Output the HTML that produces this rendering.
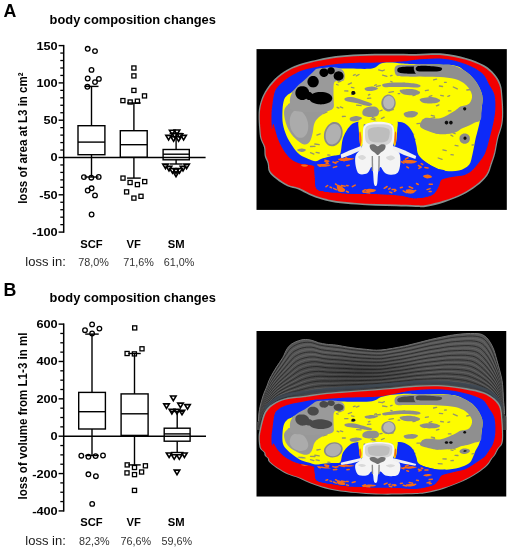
<!DOCTYPE html>
<html><head><meta charset="utf-8"><title>body composition changes</title>
<style>html,body{margin:0;padding:0;background:#fff;}body{width:510px;height:550px;position:relative;overflow:hidden;}</style>
</head><body>
<svg width="510" height="550" viewBox="0 0 510 550" style="position:absolute;left:0;top:0" font-family='"Liberation Sans", Arial, sans-serif'>
<text x="3.5" y="17.4" font-size="17.8" font-weight="bold">A</text>
<text x="49.6" y="23.95" font-size="12.3" font-weight="bold" textLength="166.3" lengthAdjust="spacingAndGlyphs">body composition changes</text>
<line x1="63.7" y1="44.9" x2="63.7" y2="232.8" stroke="#000" stroke-width="1.5"/>
<line x1="58.6" y1="232.1" x2="63.7" y2="232.1" stroke="#000" stroke-width="1.4"/>
<text transform="translate(57.7 236.05) scale(1.13 1)" font-size="11.3" font-weight="bold" text-anchor="end">-100</text>
<line x1="60.3" y1="224.64" x2="63.7" y2="224.64" stroke="#000" stroke-width="1.3"/>
<line x1="60.3" y1="217.18" x2="63.7" y2="217.18" stroke="#000" stroke-width="1.3"/>
<line x1="60.3" y1="209.72" x2="63.7" y2="209.72" stroke="#000" stroke-width="1.3"/>
<line x1="60.3" y1="202.26" x2="63.7" y2="202.26" stroke="#000" stroke-width="1.3"/>
<line x1="58.6" y1="194.8" x2="63.7" y2="194.8" stroke="#000" stroke-width="1.4"/>
<text transform="translate(57.7 198.75) scale(1.13 1)" font-size="11.3" font-weight="bold" text-anchor="end">-50</text>
<line x1="60.3" y1="187.34" x2="63.7" y2="187.34" stroke="#000" stroke-width="1.3"/>
<line x1="60.3" y1="179.88" x2="63.7" y2="179.88" stroke="#000" stroke-width="1.3"/>
<line x1="60.3" y1="172.42" x2="63.7" y2="172.42" stroke="#000" stroke-width="1.3"/>
<line x1="60.3" y1="164.96" x2="63.7" y2="164.96" stroke="#000" stroke-width="1.3"/>
<line x1="58.6" y1="157.5" x2="63.7" y2="157.5" stroke="#000" stroke-width="1.4"/>
<text transform="translate(57.7 161.45) scale(1.13 1)" font-size="11.3" font-weight="bold" text-anchor="end">0</text>
<line x1="60.3" y1="150.04" x2="63.7" y2="150.04" stroke="#000" stroke-width="1.3"/>
<line x1="60.3" y1="142.58" x2="63.7" y2="142.58" stroke="#000" stroke-width="1.3"/>
<line x1="60.3" y1="135.12" x2="63.7" y2="135.12" stroke="#000" stroke-width="1.3"/>
<line x1="60.3" y1="127.66" x2="63.7" y2="127.66" stroke="#000" stroke-width="1.3"/>
<line x1="58.6" y1="120.2" x2="63.7" y2="120.2" stroke="#000" stroke-width="1.4"/>
<text transform="translate(57.7 124.15) scale(1.13 1)" font-size="11.3" font-weight="bold" text-anchor="end">50</text>
<line x1="60.3" y1="112.74" x2="63.7" y2="112.74" stroke="#000" stroke-width="1.3"/>
<line x1="60.3" y1="105.28" x2="63.7" y2="105.28" stroke="#000" stroke-width="1.3"/>
<line x1="60.3" y1="97.82" x2="63.7" y2="97.82" stroke="#000" stroke-width="1.3"/>
<line x1="60.3" y1="90.36" x2="63.7" y2="90.36" stroke="#000" stroke-width="1.3"/>
<line x1="58.6" y1="82.9" x2="63.7" y2="82.9" stroke="#000" stroke-width="1.4"/>
<text transform="translate(57.7 86.85) scale(1.13 1)" font-size="11.3" font-weight="bold" text-anchor="end">100</text>
<line x1="60.3" y1="75.44" x2="63.7" y2="75.44" stroke="#000" stroke-width="1.3"/>
<line x1="60.3" y1="67.98" x2="63.7" y2="67.98" stroke="#000" stroke-width="1.3"/>
<line x1="60.3" y1="60.52" x2="63.7" y2="60.52" stroke="#000" stroke-width="1.3"/>
<line x1="60.3" y1="53.06" x2="63.7" y2="53.06" stroke="#000" stroke-width="1.3"/>
<line x1="58.6" y1="45.6" x2="63.7" y2="45.6" stroke="#000" stroke-width="1.4"/>
<text transform="translate(57.7 49.55) scale(1.13 1)" font-size="11.3" font-weight="bold" text-anchor="end">150</text>
<line x1="63.7" y1="157.5" x2="205.6" y2="157.5" stroke="#000" stroke-width="1.35"/>
<g stroke="#000" stroke-width="1.4" fill="none">
<rect x="78" y="125.7" width="26.9" height="29"/>
<line x1="78" y1="142.1" x2="104.9" y2="142.1"/>
<line x1="91.5" y1="86.4" x2="91.5" y2="125.7"/>
<line x1="91.5" y1="154.7" x2="91.5" y2="177"/>
<line x1="84.5" y1="86.4" x2="98.5" y2="86.4"/>
<line x1="84.5" y1="177" x2="98.5" y2="177"/>
</g>
<g stroke="#000" stroke-width="1.4" fill="none">
<rect x="120.3" y="130.7" width="26.9" height="26.6"/>
<line x1="120.3" y1="144.7" x2="147.2" y2="144.7"/>
<line x1="133.9" y1="103" x2="133.9" y2="130.7"/>
<line x1="133.9" y1="157.3" x2="133.9" y2="178.1"/>
<line x1="127.05" y1="103" x2="140.75" y2="103"/>
<line x1="127.05" y1="178.1" x2="140.75" y2="178.1"/>
</g>
<g stroke="#000" stroke-width="1.4" fill="none">
<rect x="163.1" y="149.5" width="26.2" height="10.3"/>
<line x1="163.1" y1="154.2" x2="189.3" y2="154.2"/>
<line x1="176.1" y1="133.5" x2="176.1" y2="149.5"/>
<line x1="176.1" y1="159.8" x2="176.1" y2="164"/>
<line x1="169.6" y1="133.5" x2="182.6" y2="133.5"/>
<line x1="169.6" y1="164" x2="182.6" y2="164"/>
</g>
<g stroke="#000" stroke-width="1.3" fill="none">
<circle cx="87.7" cy="48.8" r="2.3"/>
<circle cx="95" cy="51.1" r="2.3"/>
<circle cx="91.5" cy="69.9" r="2.3"/>
<circle cx="87.7" cy="78.5" r="2.3"/>
<circle cx="98.9" cy="78.9" r="2.3"/>
<circle cx="95" cy="82.1" r="2.3"/>
<circle cx="87.4" cy="86.8" r="2.3"/>
<circle cx="83.9" cy="177.1" r="2.3"/>
<circle cx="91.3" cy="177.7" r="2.3"/>
<circle cx="98.7" cy="176.9" r="2.3"/>
<circle cx="87.7" cy="190.5" r="2.3"/>
<circle cx="91.6" cy="188.3" r="2.3"/>
<circle cx="95" cy="195.4" r="2.3"/>
<circle cx="91.6" cy="214.5" r="2.3"/>
<rect x="131.85" y="65.95" width="4.1" height="4.1"/>
<rect x="131.85" y="73.85" width="4.1" height="4.1"/>
<rect x="131.85" y="88.35" width="4.1" height="4.1"/>
<rect x="142.45" y="93.85" width="4.1" height="4.1"/>
<rect x="120.85" y="98.55" width="4.1" height="4.1"/>
<rect x="128.15" y="99.95" width="4.1" height="4.1"/>
<rect x="135.35" y="99.15" width="4.1" height="4.1"/>
<rect x="120.95" y="176.05" width="4.1" height="4.1"/>
<rect x="128.05" y="180.45" width="4.1" height="4.1"/>
<rect x="135.35" y="182.55" width="4.1" height="4.1"/>
<rect x="142.65" y="179.55" width="4.1" height="4.1"/>
<rect x="124.55" y="189.85" width="4.1" height="4.1"/>
<rect x="131.85" y="196.05" width="4.1" height="4.1"/>
<rect x="138.95" y="194.25" width="4.1" height="4.1"/>
<path d="M169.45 130.25H174.95L172.2 134.8Z" stroke-width="1.6" stroke-linejoin="miter"/>
<path d="M174.25 130.05H179.75L177 134.6Z" stroke-width="1.6" stroke-linejoin="miter"/>
<path d="M172.05 133.35H177.55L174.8 137.9Z" stroke-width="1.6" stroke-linejoin="miter"/>
<path d="M177.25 133.75H182.75L180 138.3Z" stroke-width="1.6" stroke-linejoin="miter"/>
<path d="M165.85 135.35H171.35L168.6 139.9Z" stroke-width="1.6" stroke-linejoin="miter"/>
<path d="M170.85 136.75H176.35L173.6 141.3Z" stroke-width="1.6" stroke-linejoin="miter"/>
<path d="M175.85 136.75H181.35L178.6 141.3Z" stroke-width="1.6" stroke-linejoin="miter"/>
<path d="M180.85 135.35H186.35L183.6 139.9Z" stroke-width="1.6" stroke-linejoin="miter"/>
<path d="M162.75 164.15H168.25L165.5 168.7Z" stroke-width="1.6" stroke-linejoin="miter"/>
<path d="M183.85 164.15H189.35L186.6 168.7Z" stroke-width="1.6" stroke-linejoin="miter"/>
<path d="M166.25 166.35H171.75L169 170.9Z" stroke-width="1.6" stroke-linejoin="miter"/>
<path d="M180.25 166.35H185.75L183 170.9Z" stroke-width="1.6" stroke-linejoin="miter"/>
<path d="M169.75 168.55H175.25L172.5 173.1Z" stroke-width="1.6" stroke-linejoin="miter"/>
<path d="M173.25 168.95H178.75L176 173.5Z" stroke-width="1.6" stroke-linejoin="miter"/>
<path d="M176.75 168.55H182.25L179.5 173.1Z" stroke-width="1.6" stroke-linejoin="miter"/>
<path d="M173.25 172.05H178.75L176 176.6Z" stroke-width="1.6" stroke-linejoin="miter"/>
</g>
<text transform="translate(26.6 138.1) rotate(-90)" font-size="13.3" font-weight="bold" text-anchor="middle" textLength="131.5" lengthAdjust="spacingAndGlyphs">loss of area at L3 in cm²</text>
<text transform="translate(91.5 247.7) scale(0.97 1)" font-size="11.6" font-weight="bold" text-anchor="middle">SCF</text>
<text transform="translate(133.6 247.7) scale(0.97 1)" font-size="11.6" font-weight="bold" text-anchor="middle">VF</text>
<text transform="translate(176.2 247.7) scale(0.97 1)" font-size="11.6" font-weight="bold" text-anchor="middle">SM</text>
<text x="25.3" y="266.3" font-size="13" fill="#1a1a1a">loss in:</text>
<text x="78.2" y="266.3" font-size="10.8" fill="#333">78,0%</text>
<text x="123.2" y="266.3" font-size="10.8" fill="#333">71,6%</text>
<text x="163.8" y="266.3" font-size="10.8" fill="#333">61,0%</text>
<text x="3.5" y="295.6" font-size="17.8" font-weight="bold">B</text>
<text x="49.6" y="302.15" font-size="12.3" font-weight="bold" textLength="166.3" lengthAdjust="spacingAndGlyphs">body composition changes</text>
<line x1="63.7" y1="323.42" x2="63.7" y2="511.62" stroke="#000" stroke-width="1.5"/>
<line x1="58.6" y1="510.92" x2="63.7" y2="510.92" stroke="#000" stroke-width="1.4"/>
<text transform="translate(57.7 514.87) scale(1.13 1)" font-size="11.3" font-weight="bold" text-anchor="end">-400</text>
<line x1="60.3" y1="501.58" x2="63.7" y2="501.58" stroke="#000" stroke-width="1.3"/>
<line x1="60.3" y1="492.24" x2="63.7" y2="492.24" stroke="#000" stroke-width="1.3"/>
<line x1="60.3" y1="482.9" x2="63.7" y2="482.9" stroke="#000" stroke-width="1.3"/>
<line x1="58.6" y1="473.56" x2="63.7" y2="473.56" stroke="#000" stroke-width="1.4"/>
<text transform="translate(57.7 477.51) scale(1.13 1)" font-size="11.3" font-weight="bold" text-anchor="end">-200</text>
<line x1="60.3" y1="464.22" x2="63.7" y2="464.22" stroke="#000" stroke-width="1.3"/>
<line x1="60.3" y1="454.88" x2="63.7" y2="454.88" stroke="#000" stroke-width="1.3"/>
<line x1="60.3" y1="445.54" x2="63.7" y2="445.54" stroke="#000" stroke-width="1.3"/>
<line x1="58.6" y1="436.2" x2="63.7" y2="436.2" stroke="#000" stroke-width="1.4"/>
<text transform="translate(57.7 440.15) scale(1.13 1)" font-size="11.3" font-weight="bold" text-anchor="end">0</text>
<line x1="60.3" y1="426.86" x2="63.7" y2="426.86" stroke="#000" stroke-width="1.3"/>
<line x1="60.3" y1="417.52" x2="63.7" y2="417.52" stroke="#000" stroke-width="1.3"/>
<line x1="60.3" y1="408.18" x2="63.7" y2="408.18" stroke="#000" stroke-width="1.3"/>
<line x1="58.6" y1="398.84" x2="63.7" y2="398.84" stroke="#000" stroke-width="1.4"/>
<text transform="translate(57.7 402.79) scale(1.13 1)" font-size="11.3" font-weight="bold" text-anchor="end">200</text>
<line x1="60.3" y1="389.5" x2="63.7" y2="389.5" stroke="#000" stroke-width="1.3"/>
<line x1="60.3" y1="380.16" x2="63.7" y2="380.16" stroke="#000" stroke-width="1.3"/>
<line x1="60.3" y1="370.82" x2="63.7" y2="370.82" stroke="#000" stroke-width="1.3"/>
<line x1="58.6" y1="361.48" x2="63.7" y2="361.48" stroke="#000" stroke-width="1.4"/>
<text transform="translate(57.7 365.43) scale(1.13 1)" font-size="11.3" font-weight="bold" text-anchor="end">400</text>
<line x1="60.3" y1="352.14" x2="63.7" y2="352.14" stroke="#000" stroke-width="1.3"/>
<line x1="60.3" y1="342.8" x2="63.7" y2="342.8" stroke="#000" stroke-width="1.3"/>
<line x1="60.3" y1="333.46" x2="63.7" y2="333.46" stroke="#000" stroke-width="1.3"/>
<line x1="58.6" y1="324.12" x2="63.7" y2="324.12" stroke="#000" stroke-width="1.4"/>
<text transform="translate(57.7 328.07) scale(1.13 1)" font-size="11.3" font-weight="bold" text-anchor="end">600</text>
<line x1="63.7" y1="436.2" x2="206" y2="436.2" stroke="#000" stroke-width="1.35"/>
<g stroke="#000" stroke-width="1.4" fill="none">
<rect x="78.7" y="392.4" width="26.7" height="36.6"/>
<line x1="78.7" y1="411.7" x2="105.4" y2="411.7"/>
<line x1="92" y1="334.1" x2="92" y2="392.4"/>
<line x1="92" y1="429" x2="92" y2="455.5"/>
<line x1="85.25" y1="334.1" x2="98.75" y2="334.1"/>
<line x1="85.25" y1="455.5" x2="98.75" y2="455.5"/>
</g>
<g stroke="#000" stroke-width="1.4" fill="none">
<rect x="121.1" y="393.9" width="27" height="41.5"/>
<line x1="121.1" y1="413.8" x2="148.1" y2="413.8"/>
<line x1="134.5" y1="353.5" x2="134.5" y2="393.9"/>
<line x1="134.5" y1="435.4" x2="134.5" y2="464.9"/>
<line x1="128.25" y1="353.5" x2="140.75" y2="353.5"/>
<line x1="128.25" y1="464.9" x2="140.75" y2="464.9"/>
</g>
<g stroke="#000" stroke-width="1.4" fill="none">
<rect x="164.2" y="428.2" width="25.9" height="13"/>
<line x1="164.2" y1="433.9" x2="190.1" y2="433.9"/>
<line x1="177.2" y1="411.5" x2="177.2" y2="428.2"/>
<line x1="177.2" y1="441.2" x2="177.2" y2="452.5"/>
<line x1="170.7" y1="411.5" x2="183.7" y2="411.5"/>
<line x1="170.7" y1="452.5" x2="183.7" y2="452.5"/>
</g>
<g stroke="#000" stroke-width="1.3" fill="none">
<circle cx="92.1" cy="324.4" r="2.3"/>
<circle cx="85" cy="330.2" r="2.3"/>
<circle cx="99.4" cy="328.6" r="2.3"/>
<circle cx="92.1" cy="333.5" r="2.3"/>
<circle cx="81.3" cy="455.7" r="2.3"/>
<circle cx="88.4" cy="456.8" r="2.3"/>
<circle cx="95.6" cy="456.1" r="2.3"/>
<circle cx="103" cy="455.5" r="2.3"/>
<circle cx="88.4" cy="474.3" r="2.3"/>
<circle cx="95.9" cy="476.2" r="2.3"/>
<circle cx="92.2" cy="503.9" r="2.3"/>
<rect x="132.65" y="325.85" width="4.1" height="4.1"/>
<rect x="139.95" y="346.75" width="4.1" height="4.1"/>
<rect x="125.05" y="351.45" width="4.1" height="4.1"/>
<rect x="132.35" y="351.85" width="4.1" height="4.1"/>
<rect x="125.15" y="462.85" width="4.1" height="4.1"/>
<rect x="132.45" y="465.45" width="4.1" height="4.1"/>
<rect x="143.35" y="463.75" width="4.1" height="4.1"/>
<rect x="124.95" y="470.85" width="4.1" height="4.1"/>
<rect x="132.45" y="472.55" width="4.1" height="4.1"/>
<rect x="139.55" y="469.95" width="4.1" height="4.1"/>
<rect x="132.45" y="488.35" width="4.1" height="4.1"/>
<path d="M170.55 396.05H176.05L173.3 400.6Z" stroke-width="1.6" stroke-linejoin="miter"/>
<path d="M163.75 403.85H169.25L166.5 408.4Z" stroke-width="1.6" stroke-linejoin="miter"/>
<path d="M177.75 403.15H183.25L180.5 407.7Z" stroke-width="1.6" stroke-linejoin="miter"/>
<path d="M184.75 404.65H190.25L187.5 409.2Z" stroke-width="1.6" stroke-linejoin="miter"/>
<path d="M169.15 409.35H174.65L171.9 413.9Z" stroke-width="1.6" stroke-linejoin="miter"/>
<path d="M174.25 409.35H179.75L177 413.9Z" stroke-width="1.6" stroke-linejoin="miter"/>
<path d="M179.25 410.25H184.75L182 414.8Z" stroke-width="1.6" stroke-linejoin="miter"/>
<path d="M166.35 452.95H171.85L169.1 457.5Z" stroke-width="1.6" stroke-linejoin="miter"/>
<path d="M171.45 454.75H176.95L174.2 459.3Z" stroke-width="1.6" stroke-linejoin="miter"/>
<path d="M176.55 454.75H182.05L179.3 459.3Z" stroke-width="1.6" stroke-linejoin="miter"/>
<path d="M181.65 452.95H187.15L184.4 457.5Z" stroke-width="1.6" stroke-linejoin="miter"/>
<path d="M174.25 470.15H179.75L177 474.7Z" stroke-width="1.6" stroke-linejoin="miter"/>
</g>
<text transform="translate(26.6 416) rotate(-90)" font-size="13.3" font-weight="bold" text-anchor="middle" textLength="167" lengthAdjust="spacingAndGlyphs">loss of volume from L1-3 in ml</text>
<text transform="translate(91.5 525.9) scale(0.97 1)" font-size="11.6" font-weight="bold" text-anchor="middle">SCF</text>
<text transform="translate(133.6 525.9) scale(0.97 1)" font-size="11.6" font-weight="bold" text-anchor="middle">VF</text>
<text transform="translate(176.2 525.9) scale(0.97 1)" font-size="11.6" font-weight="bold" text-anchor="middle">SM</text>
<text x="25.3" y="544.5" font-size="13" fill="#1a1a1a">loss in:</text>
<text x="79.1" y="544.5" font-size="10.8" fill="#333">82,3%</text>
<text x="120.6" y="544.5" font-size="10.8" fill="#333">76,6%</text>
<text x="161.5" y="544.5" font-size="10.8" fill="#333">59,6%</text>
<defs><clipPath id="c1"><rect x="256.3" y="49.1" width="250.6" height="160.8"/></clipPath><clipPath id="c2"><rect x="256.3" y="330.9" width="250.2" height="165.8"/></clipPath><filter id="soft" x="0" y="0" width="1" height="1"><feGaussianBlur stdDeviation="0.45"/></filter></defs>
<g clip-path="url(#c1)"><g id="ct1" filter="url(#soft)"><rect x="256.3" y="49.1" width="250.6" height="160.8" fill="#000"/><path d="M259.2 129C258.9 125 258.5 119.1 258.6 114.9C258.7 110.7 258.9 107.8 260 103.9C261.1 100 262.5 95.6 265 91.4C267.5 87.2 271.1 82.5 274.8 78.8C278.5 75.1 282.7 72 287.4 69.4C292.1 66.8 297.9 64.8 303.1 63.1C308.3 61.4 313.2 60.4 318.7 59.2C324.2 58 329.1 56.9 336 56.1C342.9 55.3 351 54.6 360 54.2C369 53.8 380.7 53.8 390 53.8C399.3 53.8 407.2 54 416 54C424.8 54 434.5 52.9 442.8 53.5C451.1 54.1 459.1 56 466 57.9C472.9 59.8 479.1 62.4 483.9 65.1C488.7 67.8 491.8 70.7 494.6 74C497.4 77.3 499.5 80.8 500.8 84.7C502.1 88.6 502.1 92.7 502.5 97.2C502.9 101.7 503.2 107 503.2 111.5C503.2 116 503.2 119.6 502.4 124.1C501.6 128.6 499.4 133.8 498.2 138.6C497 143.4 496.4 148.8 495.3 153.2C494.2 157.6 492.9 161.1 491.6 164.8C490.3 168.5 489.9 171.9 487.4 175.4C484.9 178.9 480.9 182.8 476.7 186.1C472.5 189.4 467.8 192.4 462.4 195.1C457 197.8 450.6 200.3 444.6 202.2C438.7 204.1 431.5 205.9 426.7 206.7C421.9 207.5 421.1 207.1 416 207C410.9 206.9 402.7 206.5 396 206.3C389.3 206.1 382.7 206.1 376 205.8C369.3 205.5 362.7 205 356 204.5C349.3 204 341.7 203.5 336 202.7C330.3 201.9 326.3 200.9 321.9 199.6C317.4 198.3 313.2 196.6 309.3 194.9C305.4 193.2 302 190.8 298.4 189.4C294.8 188 291.1 188 287.4 186.3C283.7 184.6 279.4 181.6 276.4 179.2C273.3 176.8 270.6 174.6 269.1 172C267.6 169.4 268.3 166.1 267.6 163.4C266.9 160.8 265.3 158.8 264.7 156.1C264.1 153.4 264.7 150.3 264 147.4C263.3 144.5 261.2 141.7 260.4 138.6C259.6 135.5 259.5 132.9 259.2 129Z" fill="#86908e"/>
<path d="M260.4 129C260.1 125.2 259.7 119.3 259.8 115.2C260 111.1 260.2 108.3 261.2 104.5C262.3 100.6 263.7 96.3 266.2 92.2C268.6 88.2 272.2 83.5 275.9 79.9C279.6 76.3 283.7 73.3 288.3 70.7C293 68.2 298.7 66.2 303.9 64.6C309 62.9 313.9 61.9 319.3 60.8C324.8 59.6 329.6 58.5 336.4 57.7C343.3 56.9 351.3 56.2 360.2 55.9C369.1 55.5 380.7 55.5 389.9 55.5C399.2 55.4 406.9 55.7 415.6 55.7C424.4 55.6 433.9 54.5 442.2 55.2C450.4 55.8 458.4 57.6 465.1 59.5C471.9 61.4 478.2 63.9 482.9 66.5C487.6 69.2 490.7 72 493.5 75.2C496.3 78.4 498.3 81.9 499.6 85.7C500.9 89.5 500.9 93.6 501.3 97.9C501.7 102.3 502 107.5 502 111.9C502 116.3 502 119.8 501.2 124.2C500.4 128.6 498.2 133.7 497 138.4C495.9 143.2 495.2 148.4 494.2 152.7C493.1 157 491.8 160.4 490.5 164C489.2 167.7 488.8 170.9 486.3 174.4C483.9 177.9 479.9 181.7 475.7 184.9C471.6 188.1 466.9 191 461.6 193.7C456.3 196.3 449.9 198.7 444 200.6C438.1 202.5 431 204.2 426.2 205C421.5 205.8 420.7 205.4 415.6 205.3C410.6 205.2 402.5 204.8 395.9 204.6C389.2 204.4 382.7 204.4 376.1 204.1C369.4 203.8 362.9 203.4 356.2 202.9C349.6 202.4 342.1 201.9 336.4 201.1C330.8 200.3 326.9 199.3 322.5 198.1C318.1 196.8 313.9 195.1 310 193.5C306.1 191.8 302.8 189.5 299.2 188.1C295.6 186.7 292 186.7 288.3 185.1C284.7 183.4 280.5 180.4 277.4 178.1C274.4 175.8 271.7 173.7 270.2 171.1C268.8 168.5 269.5 165.3 268.7 162.7C268 160.1 266.5 158.1 265.9 155.5C265.3 152.9 265.9 149.9 265.2 147C264.5 144.2 262.4 141.4 261.6 138.4C260.8 135.4 260.7 132.9 260.4 129Z" fill="#f20303"/>
<path d="M272 129C271.7 127.5 271.4 119.2 271.5 115C271.6 110.8 272 107.8 272.5 104C273 100.2 273.6 95.1 274.7 92C275.8 88.9 277.2 87.6 279 85.5C280.8 83.4 283.4 81.3 285.7 79.5C288 77.7 290.4 76.2 293 74.8C295.6 73.3 298.7 71.8 301.4 70.8C304.1 69.8 306.4 69.2 309 68.5C311.6 67.8 313.1 67.6 317 66.9C320.9 66.2 327.2 65.2 332.7 64.5C338.2 63.9 342.1 63.3 350 63C357.9 62.7 371.3 62.8 380 62.5C388.7 62.2 396 62 402 61.5C408 61 409.2 60.2 416 59.7C422.8 59.2 434.5 58 442.8 58.8C451.1 59.5 459.5 61.8 466 64.2C472.5 66.6 478.1 69.7 482 73.1C485.9 76.5 487.1 81 489.2 84.7C491.3 88.4 493.5 90.9 494.5 95C495.5 99.1 495.5 104.7 495.3 109.5C495.1 114.3 494.1 119.2 493.1 124.1C492.1 128.9 490.8 133.8 489.5 138.6C488.2 143.4 486.8 149.3 485.1 153.2C483.4 157.1 481.5 159 479.3 161.9C477.1 164.8 474.4 168.4 472 170.6C469.6 172.8 468 173.9 464.7 175C461.4 176.1 455.9 176.2 452 177C448.1 177.8 443.3 178.3 441 180C438.7 181.7 439.8 184.5 438.3 187C436.8 189.5 435.7 193.2 432 195.1C428.3 197 421.3 198.2 416 198.3C410.7 198.4 406.7 196.2 400 195.5C393.3 194.8 384.3 194.3 376 194C367.7 193.7 356.7 194.1 350 193.8C343.3 193.6 340.2 192.8 336 192.5C331.8 192.2 328.2 192.3 325 191.7C321.8 191 318.2 191.2 316.5 188.6C314.8 186 315.2 179.7 314.8 176C314.4 172.3 316.7 168.4 314.2 166.3C311.7 164.2 303.5 164.6 299.6 163.4C295.7 162.2 293.6 161.2 290.9 159C288.2 156.8 285.8 153.7 283.6 150.3C281.4 146.9 279.5 143 277.8 138.6C276.1 134.2 274.5 125.7 273.5 124.1C272.5 122.5 272.3 130.5 272 129Z" fill="#0a2cf8"/>
<path d="M282.9 124.1C282.2 119.8 282.3 114 282.5 110C282.7 106 283.2 102.4 284 100C284.8 97.6 285.7 96.8 287 95.5C288.3 94.2 290.3 93.3 292 92C293.7 90.7 295.4 88.9 297 87.5C298.6 86.1 299.4 85.1 301.4 83.4C303.4 81.7 306.8 79.2 309.2 77.1C311.6 74.9 313.4 71.8 315.5 70.5C317.6 69.2 318.9 69.8 322 69.5C325.1 69.2 329.7 68.7 334.4 68.5C339.1 68.3 343.7 68.6 350 68.6C356.3 68.6 366.8 69.3 372 68.5C377.2 67.7 378 64.5 381 63.5C384 62.5 386.5 62.6 390 62.6C393.5 62.6 397.7 63.2 402 63.5C406.3 63.8 407.7 63.9 416 64.2C424.3 64.5 443.7 64.1 451.7 65.1C459.7 66.1 460.3 67.9 464.2 70.4C468.1 72.9 471.9 76.2 474.9 80.3C477.9 84.4 481.1 90.1 482.2 95C483.3 99.9 482 104.7 481.5 109.5C481 114.3 480.3 119.2 479.3 124.1C478.3 128.9 476.7 133.8 475.6 138.6C474.5 143.4 473.8 148.8 472.7 153.2C471.6 157.6 471.4 161.9 469.1 164.8C466.8 167.7 462.8 169.6 458.9 170.6C455 171.6 449.6 171.3 446 171C442.4 170.7 440.2 169.8 437 168.5C433.8 167.2 430.2 164.8 427 163C423.8 161.2 422.5 159 418 158C413.5 157 406.7 157.2 400 157C393.3 156.8 385.3 157 378 157C370.7 157 362.7 157.2 356 157C349.3 156.8 342.3 155.6 338 155.5C333.7 155.4 332.8 155.9 330 156.5C327.2 157.1 323.4 158.2 321 159C318.6 159.8 317.7 161.2 315.6 161.2C313.5 161.2 311.1 160.1 308.4 159C305.7 157.9 302.3 156.8 299.6 154.6C296.9 152.4 294.6 149.1 292.4 145.9C290.2 142.8 288.1 139.3 286.5 135.7C284.9 132.1 283.6 128.4 282.9 124.1Z" fill="#fdfc00"/>
<path d="M348.3 84.3L351.5 82.9 M356.3 75.9L359 74.5 M367.6 144.7L369.4 144.2 M464.1 121.3L466.5 122.6 M447.9 96.4L449.7 95.7 M439.4 86L442.6 86.5 M390.5 75.9L392.1 75.4 M367.5 98.3L370.7 98.2 M435.8 132.8L438.1 133 M450.9 135.1L452.9 136.2 M366.4 138.2L368.3 138.1 M412.1 138.2L415.1 139.4 M417 123.6L420.2 123.4 M463.2 113.4L466.3 111.9 M440.7 95.4L443.4 95.8 M374.6 85.5L376.3 84.7 M312.7 91.8L315.2 92.8 M371.1 118.8L375.1 120.1 M340.3 106.9L342.7 107.9 M316.9 86.1L319 85.6 M398.2 93.7L399.7 93.6 M393 155.8L396.6 155.8 M413.1 74.3L417.1 75.4 M436.4 105.8L438.9 104.8 M327.5 85.2L329.8 84.1 M316.8 79.7L319.1 78.5 M402.5 83.5L404.7 83.2 M310.5 146.5L315 146.3 M351.5 94.5L355.3 93.2 M465 117.5L466.9 117.6 M448.6 132.8L450.8 132.5 M430.9 118.3L434.7 117.6 M438.2 158L442.1 159.3 M425.4 90.6L428.4 90.2 M294.1 94.9L296.3 95.4 M370.7 153.4L374.7 155.3 M329.8 90.7L331.8 90.1 M455.1 145.4L458 145.9 M303.7 128.9L307.7 130 M376.5 86.4L380.3 85.7 M468.5 105L471 106.2 M320.6 81L322.3 81.8 M314.8 144L319.2 144.7 M390.8 81.4L392.2 82.1 M386.1 153.5L388.7 154.5 M327.9 93L330.2 92.4 M337.1 107.3L338.9 108.1 M372.7 122.7L376.9 122.3 M381.4 118.6L384.2 117.2 M322 71L325.7 69.7 M422.9 120.1L425.4 120.1 M433.6 79.9L436.6 79.2 M431.3 115.3L434.4 116.1 M370.5 125.1L373.5 125.1 M372.4 117.4L375 118.6 M451 154.7L453.3 154.9 M444.5 82.4L446.3 82.3 M332.8 76.1L336.2 77.1 M316.9 135.1L320.2 133.8 M466.8 90L471.2 89.5 M472.1 145L474.1 144.9 M351.5 87.3L353.9 87.9 M391.7 109.8L393.3 109.5 M382.6 75.2L386.9 76.4 M308.6 93.7L310.2 94.1 M312 107.3L316 108.7 M316.1 152.4L319.2 153 M299.4 132.5L301.9 131.4 M406.6 141.8L408.2 142.5 M448.4 110.8L450.9 110.9 M338.1 82L341 81.2 M318.8 74.7L320.9 74.3 M429.1 96.6L431.9 95.6 M292.6 92.4L294.1 92.7 M323.1 113.6L327 111.9 M368 114.8L371.9 114.3 M351.6 144.7L355.2 145.2 M353.4 75.3L355.2 74.5 M336.5 84.4L338.1 85 M413 95.6L415.1 95.1 M318.1 109.6L320.2 110.6 M389 92.4L393.4 91.6 M288.7 104.3L291.7 104.4 M382.3 70.9L384.4 70 M344.7 90.9L347.9 91 M409.6 134.7L413.7 134.2 M470.4 83.2L474 83.7 M442.9 149.9L446.2 150.7 M314.3 116.6L317.2 117.6 M440.8 122.2L444.9 122.9 M331.6 72.9L333.5 72.7 M442.9 120.1L446.3 120.5 M378.6 69.8L382.4 70.8 M388.2 129.1L389.8 129.5 M302 94.4L305.5 93.4 M469.2 114.5L471.8 114.4 M430.3 126.2L433.5 124.8 M335.8 136.8L338.2 137 M299.5 93.9L302.9 94.5 M342.4 116.5L345.3 116.4 M453.3 87L457.3 88.9 M372.7 143.9L377.1 143.7 M327.8 155L329.9 155.2 M386.1 155.4L387.9 156 M453.1 132.9L455.1 133.7 M379.8 111L382.1 110.1 M347.7 145.4L349.2 145.8 M310.5 152.7L313.9 154.1 M356.6 105.2L361.1 105.6 M368.4 95.1L369.9 94.4" stroke="#8a8a7a" stroke-width="1.3" stroke-linecap="round" fill="none" opacity="0.9"/>
<path d="M340.5 153C341.4 150.4 341.6 143.5 342.5 140C343.4 136.5 344.6 134.1 345.9 131.8C347.1 129.5 348.6 127.5 350 126C351.4 124.5 352.2 123.7 354 123C355.8 122.3 359 121.7 360.7 121.9C362.4 122.2 361.1 124.2 364 124.5C366.9 124.8 373.2 124 378 124C382.8 124 390 124.8 393 124.5C396 124.2 394.5 122.3 396 121.9C397.5 121.5 400.2 121.8 402 122.3C403.8 122.8 405.5 123.8 407 125C408.5 126.2 409.8 127.7 411 129.5C412.2 131.3 413.1 133.2 414 136C414.9 138.8 415.8 142.8 416.5 146C417.2 149.2 416.8 152.2 418.5 155C420.2 157.8 423.9 160.8 427 163C430.1 165.2 433.8 167.1 437 168.5C440.2 169.9 445.3 169.6 446 171.5C446.7 173.4 442.3 177.4 441 180C439.7 182.6 439.8 184.5 438.3 187C436.8 189.5 435.7 193.2 432 195.1C428.3 197 421.3 198.2 416 198.3C410.7 198.4 406.7 196.2 400 195.5C393.3 194.8 384.3 194.3 376 194C367.7 193.7 356.7 194.1 350 193.8C343.3 193.6 340.2 192.8 336 192.5C331.8 192.2 328.2 192.3 325 191.7C321.8 191 318.2 191.2 316.5 188.6C314.8 186 315.1 179.7 314.8 176C314.5 172.3 313.5 169 314.5 166.5C315.5 164 318.4 162.5 321 161C323.6 159.5 327.3 158.4 330 157.5C332.7 156.6 335.2 156.2 337 155.5C338.8 154.8 339.6 155.6 340.5 153Z" fill="#0a2cf8"/>
<path d="M285.1 108.1C283.7 110.7 283.9 113.4 284.4 116.8C284.9 120.2 286.2 124.9 288 128.5C289.8 132.1 292.6 135.9 295.3 138.6C298 141.3 301.6 144 304 144.5C306.4 145 308.4 143.4 309.8 141.5C311.2 139.6 312 135.7 312.7 132.8C313.4 129.9 313.3 126.6 314.2 124.1C315.1 121.6 316 120 318 118C320 116 323.5 113.7 326 112C328.5 110.3 331.8 109.7 333 108C334.2 106.3 333.8 104 333.5 102C333.2 100 333.6 97.2 331 96C328.4 94.8 323.2 94.5 318 95C312.8 95.5 304.2 98 300 99C295.8 100 295.2 99.5 292.7 101C290.2 102.5 286.5 105.5 285.1 108.1Z" fill="#989898"/>
<path d="M307.8 122.1C308.2 124.1 308.4 126.4 308.2 128.3C308 130.2 307.5 132.1 306.8 133.5C306 135 304.9 136.2 303.8 136.9C302.6 137.6 301.2 137.9 299.9 137.8C298.5 137.6 297 136.9 295.8 135.9C294.5 134.8 293.3 133.3 292.3 131.6C291.4 130 290.6 127.9 290.2 125.9C289.8 123.9 289.6 121.6 289.8 119.7C290 117.8 290.5 115.9 291.2 114.5C292 113 293.1 111.8 294.2 111.1C295.4 110.4 296.8 110.1 298.1 110.2C299.5 110.4 301 111.1 302.2 112.1C303.5 113.2 304.7 114.7 305.7 116.4C306.6 118 307.4 120.1 307.8 122.1Z" fill="#ababab"/>
<path d="M313 72C315.3 70.1 314.4 69.4 318.2 68.6C322 67.8 331.8 66.9 336 67.4C340.2 67.9 342.4 69.3 343.7 71.5C345 73.7 345.2 78.7 343.7 80.4C342.2 82.1 336.5 79.8 334.8 81.7C333.1 83.6 333.7 88.4 333.5 91.8C333.3 95.2 333.9 99 333.5 102C333.1 105 334.9 108.3 331 110C327.1 111.7 316.5 112 310 112C303.5 112 295.3 111.5 292 110C288.7 108.5 290.2 105.5 290 103C289.8 100.5 289.8 97.8 291 95C292.2 92.2 294.8 89 297 86.5C299.2 84 301.8 82.4 304.5 80C307.2 77.6 310.7 73.9 313 72Z" fill="#9a9a9a"/>
<path d="M318.8 81.7C318.8 82.5 318.6 83.4 318.2 84.2C317.9 84.9 317.3 85.6 316.7 86.2C316 86.7 315.2 87.1 314.4 87.3C313.6 87.4 312.6 87.4 311.8 87.3C311 87.1 310.2 86.7 309.5 86.2C308.9 85.6 308.3 84.9 308 84.2C307.6 83.4 307.4 82.5 307.4 81.7C307.4 80.9 307.6 80 308 79.2C308.3 78.5 308.9 77.8 309.5 77.2C310.2 76.7 311 76.3 311.8 76.1C312.6 76 313.6 76 314.4 76.1C315.2 76.3 316 76.7 316.7 77.2C317.3 77.8 317.9 78.5 318.2 79.2C318.6 80 318.8 80.9 318.8 81.7Z" fill="#050505"/>
<path d="M309.3 93.1C309.3 94.1 309 95.2 308.6 96.1C308.2 97 307.5 97.9 306.7 98.6C305.9 99.2 304.8 99.7 303.9 99.9C302.9 100.1 301.7 100.1 300.7 99.9C299.8 99.7 298.7 99.2 297.9 98.6C297.1 97.9 296.4 97 296 96.1C295.6 95.2 295.3 94.1 295.3 93.1C295.3 92.1 295.6 91 296 90.1C296.4 89.2 297.1 88.3 297.9 87.6C298.7 87 299.8 86.5 300.7 86.3C301.7 86.1 302.9 86.1 303.9 86.3C304.8 86.5 305.9 87 306.7 87.6C307.5 88.3 308.2 89.2 308.6 90.1C309 91 309.3 92.1 309.3 93.1Z" fill="#050505"/>
<path d="M332.3 98.2C332.3 99.1 331.9 100.1 331.2 100.9C330.4 101.8 329.3 102.6 328 103.1C326.7 103.7 325 104.1 323.4 104.3C321.7 104.5 319.9 104.5 318.2 104.3C316.6 104.1 314.9 103.7 313.6 103.1C312.3 102.6 311.2 101.8 310.4 100.9C309.7 100.1 309.3 99.1 309.3 98.2C309.3 97.3 309.7 96.3 310.4 95.5C311.2 94.6 312.3 93.8 313.6 93.3C314.9 92.7 316.6 92.3 318.2 92.1C319.9 91.9 321.7 91.9 323.4 92.1C325 92.3 326.7 92.7 328 93.3C329.3 93.8 330.4 94.6 331.2 95.5C331.9 96.3 332.3 97.3 332.3 98.2Z" fill="#050505"/>
<path d="M328.4 72.7C328.4 73.3 328.2 74 328 74.6C327.7 75.1 327.2 75.7 326.7 76.1C326.2 76.4 325.5 76.8 324.9 76.9C324.3 77 323.5 77 322.9 76.9C322.3 76.8 321.6 76.4 321.1 76.1C320.6 75.7 320.1 75.1 319.8 74.6C319.6 74 319.4 73.3 319.4 72.7C319.4 72.1 319.6 71.4 319.8 70.8C320.1 70.3 320.6 69.7 321.1 69.3C321.6 69 322.3 68.6 322.9 68.5C323.5 68.4 324.3 68.4 324.9 68.5C325.5 68.6 326.2 69 326.7 69.3C327.2 69.7 327.7 70.3 328 70.8C328.2 71.4 328.4 72.1 328.4 72.7Z" fill="#050505"/>
<path d="M334.8 70.8C334.8 71.3 334.7 71.9 334.4 72.4C334.2 72.8 333.8 73.3 333.4 73.6C332.9 73.9 332.4 74.2 331.8 74.3C331.3 74.4 330.7 74.4 330.2 74.3C329.6 74.2 329.1 73.9 328.6 73.6C328.2 73.3 327.8 72.8 327.6 72.4C327.3 71.9 327.2 71.3 327.2 70.8C327.2 70.3 327.3 69.7 327.6 69.2C327.8 68.8 328.2 68.3 328.6 68C329.1 67.7 329.6 67.4 330.2 67.3C330.7 67.2 331.3 67.2 331.8 67.3C332.4 67.4 332.9 67.7 333.4 68C333.8 68.3 334.2 68.8 334.4 69.2C334.7 69.7 334.8 70.3 334.8 70.8Z" fill="#050505"/>
<path d="M343.6 75.9C343.6 76.6 343.4 77.3 343.1 77.9C342.8 78.5 342.3 79.1 341.7 79.5C341.2 79.9 340.4 80.2 339.7 80.4C339 80.5 338.2 80.5 337.5 80.4C336.8 80.2 336 79.9 335.5 79.5C334.9 79.1 334.4 78.5 334.1 77.9C333.8 77.3 333.6 76.6 333.6 75.9C333.6 75.2 333.8 74.5 334.1 73.9C334.4 73.3 334.9 72.7 335.5 72.3C336 71.9 336.8 71.6 337.5 71.4C338.2 71.3 339 71.3 339.7 71.4C340.4 71.6 341.2 71.9 341.7 72.3C342.3 72.7 342.8 73.3 343.1 73.9C343.4 74.5 343.6 75.2 343.6 75.9Z" fill="#050505"/>
<path d="M313 96C313 96.6 312.9 97.2 312.6 97.7C312.4 98.3 311.9 98.8 311.5 99.1C311 99.5 310.5 99.8 309.9 99.9C309.3 100 308.7 100 308.1 99.9C307.5 99.8 307 99.5 306.5 99.1C306.1 98.8 305.6 98.3 305.4 97.7C305.1 97.2 305 96.6 305 96C305 95.4 305.1 94.8 305.4 94.3C305.6 93.7 306.1 93.2 306.5 92.9C307 92.5 307.5 92.2 308.1 92.1C308.7 92 309.3 92 309.9 92.1C310.5 92.2 311 92.5 311.5 92.9C311.9 93.2 312.4 93.7 312.6 94.3C312.9 94.8 313 95.4 313 96Z" fill="#050505"/>
<path d="M342.2 136.6C341.7 138.3 340.9 140.1 339.9 141.5C339 142.9 337.6 144.2 336.4 145C335.1 145.8 333.5 146.3 332.2 146.3C330.8 146.4 329.4 146 328.2 145.3C327.1 144.5 326 143.3 325.3 142C324.6 140.7 324.1 138.9 323.9 137.2C323.8 135.5 324 133.5 324.4 131.8C324.9 130.1 325.7 128.3 326.7 126.9C327.6 125.5 329 124.2 330.2 123.4C331.5 122.6 333.1 122.1 334.4 122.1C335.8 122 337.2 122.4 338.4 123.1C339.5 123.9 340.6 125.1 341.3 126.4C342 127.7 342.5 129.5 342.7 131.2C342.8 132.9 342.6 134.9 342.2 136.6Z" fill="#8a8a8a"/>
<path d="M340.5 136.1C340.2 137.6 339.5 139.1 338.6 140.3C337.8 141.5 336.8 142.6 335.7 143.3C334.6 144 333.4 144.5 332.3 144.5C331.2 144.6 330 144.3 329 143.7C328.1 143.1 327.2 142.1 326.7 140.9C326.1 139.8 325.7 138.3 325.6 136.9C325.5 135.4 325.7 133.7 326.1 132.3C326.4 130.8 327.1 129.3 328 128.1C328.8 126.9 329.8 125.8 330.9 125.1C332 124.4 333.2 123.9 334.3 123.9C335.4 123.8 336.6 124.1 337.6 124.7C338.5 125.3 339.4 126.3 339.9 127.5C340.5 128.6 340.9 130.1 341 131.5C341.1 133 340.9 134.7 340.5 136.1Z" fill="#b0b0b0"/>
<path d="M395.7 103C395.7 104.2 395.4 105.6 395 106.6C394.5 107.7 393.8 108.8 393 109.6C392.2 110.3 391.1 110.9 390.1 111.2C389.1 111.5 387.9 111.5 386.9 111.2C385.9 110.9 384.8 110.3 384 109.6C383.2 108.8 382.5 107.7 382 106.6C381.6 105.6 381.3 104.2 381.3 103C381.3 101.8 381.6 100.4 382 99.4C382.5 98.3 383.2 97.2 384 96.4C384.8 95.7 385.9 95.1 386.9 94.8C387.9 94.5 389.1 94.5 390.1 94.8C391.1 95.1 392.2 95.7 393 96.4C393.8 97.2 394.5 98.3 395 99.4C395.4 100.4 395.7 101.8 395.7 103Z" fill="#8c8c8c"/>
<path d="M394.4 102.5C394.4 103.5 394.2 104.6 393.8 105.5C393.5 106.3 392.9 107.2 392.3 107.8C391.7 108.4 390.8 108.9 390 109.1C389.3 109.3 388.3 109.3 387.6 109.1C386.8 108.9 385.9 108.4 385.3 107.8C384.7 107.2 384.1 106.3 383.8 105.5C383.4 104.6 383.2 103.5 383.2 102.5C383.2 101.5 383.4 100.4 383.8 99.5C384.1 98.7 384.7 97.8 385.3 97.2C385.9 96.6 386.8 96.1 387.6 95.9C388.3 95.7 389.3 95.7 390 95.9C390.8 96.1 391.7 96.6 392.3 97.2C392.9 97.8 393.5 98.7 393.8 99.5C394.2 100.4 394.4 101.5 394.4 102.5Z" fill="#b8b8b8"/>
<path d="M363 110C363.8 108.7 365.8 107.5 368 107C370.2 106.5 374.2 106.3 376 107C377.8 107.7 378.8 109.5 379 111C379.2 112.5 378.7 115 377 116C375.3 117 371.3 117.2 369 117C366.7 116.8 364 116.2 363 115C362 113.8 362.2 111.3 363 110Z" fill="#8f8f8f"/>
<path d="M396 66C398.3 64.3 404.3 65 410 64.8C415.7 64.6 424.7 64.7 430 65C435.3 65.3 439.7 65.5 442 66.5C444.3 67.5 444.3 69.4 444 71C443.7 72.6 443.2 75.1 440 76C436.8 76.9 430.8 76.4 425 76.5C419.2 76.6 409.8 76.8 405 76.5C400.2 76.2 397.5 76.8 396 75C394.5 73.2 393.7 67.7 396 66Z" fill="#909090"/>
<path d="M399 67.5C401.3 66.6 407.7 66.6 412 66.5C416.3 66.4 421.3 66.8 425 67C428.7 67.2 432.7 67.1 434 68C435.3 68.9 435.3 71.6 433 72.5C430.7 73.4 424.7 73.3 420 73.5C415.3 73.7 408.7 73.8 405 73.5C401.3 73.2 399 73 398 72C397 71 396.7 68.4 399 67.5Z" fill="#050505"/>
<path d="M416 64.5C420 63 434 64.9 440 65C446 65.1 448 64.3 452 65.2C456 66.1 460.4 67.9 464.2 70.4C468 72.9 471.9 76.2 474.9 80.3C477.9 84.4 481.1 90.1 482.2 95C483.3 99.9 481.8 105.4 481.5 109.5C481.2 113.6 481.8 117.5 480.7 119.7C479.6 121.9 476.8 121.6 474.9 122.6C473 123.6 471.3 124.5 469.1 125.5C466.9 126.5 464.2 127.3 461.8 128.5C459.4 129.7 458.1 131.8 454.5 132.8C450.9 133.8 444.4 134.6 440 134.3C435.6 134 431.3 132.4 428 131C424.7 129.6 420.5 128.2 420 126C419.5 123.8 421.7 119.3 425 118C428.3 116.7 435.1 119.5 440 118.3C444.9 117.1 451.1 113 454.5 111C457.9 109 458 107.8 460.4 106.6C462.8 105.4 467.2 105.6 469.1 103.7C471 101.8 472.5 98.1 472 95C471.5 91.9 468.8 87.7 466 85C463.2 82.3 459.3 80.3 455 79C450.7 77.7 445 77.4 440 77C435 76.6 429 77 425 76.5C421 76 417.5 76 416 74C414.5 72 412 66 416 64.5Z" fill="#8f8f8f"/>
<path d="M417 66.5C418.8 65.7 424 65.8 428 66C432 66.2 439 66.7 441 67.5C443 68.3 442.2 70.3 440 71C437.8 71.7 431.8 71.5 428 71.5C424.2 71.5 418.8 71.8 417 71C415.2 70.2 415.2 67.3 417 66.5Z" fill="#050505"/>
<path d="M469.9 138.6C469.9 139.4 469.7 140.2 469.4 140.9C469.1 141.5 468.5 142.2 467.9 142.7C467.4 143.1 466.6 143.5 465.9 143.7C465.1 143.8 464.3 143.8 463.5 143.7C462.8 143.5 462 143.1 461.5 142.7C460.9 142.2 460.3 141.5 460 140.9C459.7 140.2 459.5 139.4 459.5 138.6C459.5 137.8 459.7 137 460 136.3C460.3 135.7 460.9 135 461.5 134.5C462 134.1 462.8 133.7 463.5 133.5C464.3 133.4 465.1 133.4 465.9 133.5C466.6 133.7 467.4 134.1 467.9 134.5C468.5 135 469.1 135.7 469.4 136.3C469.7 137 469.9 137.8 469.9 138.6Z" fill="#8a8a8a"/>
<path d="M466.6 138.2C466.6 138.4 466.5 138.7 466.4 138.9C466.3 139.1 466.2 139.3 466 139.5C465.8 139.6 465.6 139.7 465.4 139.8C465.1 139.8 464.9 139.8 464.6 139.8C464.4 139.7 464.2 139.6 464 139.5C463.8 139.3 463.7 139.1 463.6 138.9C463.5 138.7 463.4 138.4 463.4 138.2C463.4 138 463.5 137.7 463.6 137.5C463.7 137.3 463.8 137.1 464 136.9C464.2 136.8 464.4 136.7 464.6 136.6C464.9 136.6 465.1 136.6 465.4 136.6C465.6 136.7 465.8 136.8 466 136.9C466.2 137.1 466.3 137.3 466.4 137.5C466.5 137.7 466.6 138 466.6 138.2Z" fill="#111"/>
<path d="M448.3 122.6C448.3 122.9 448.2 123.1 448.1 123.4C448 123.6 447.8 123.8 447.6 124C447.4 124.2 447.2 124.3 446.9 124.4C446.6 124.4 446.4 124.4 446.1 124.4C445.8 124.3 445.6 124.2 445.4 124C445.2 123.8 445 123.6 444.9 123.4C444.8 123.1 444.7 122.9 444.7 122.6C444.7 122.3 444.8 122.1 444.9 121.8C445 121.6 445.2 121.4 445.4 121.2C445.6 121 445.8 120.9 446.1 120.8C446.4 120.8 446.6 120.8 446.9 120.8C447.2 120.9 447.4 121 447.6 121.2C447.8 121.4 448 121.6 448.1 121.8C448.2 122.1 448.3 122.3 448.3 122.6Z" fill="#0a0a0a"/>
<path d="M452.7 122.6C452.7 122.9 452.6 123.1 452.5 123.4C452.4 123.6 452.2 123.8 452 124C451.8 124.2 451.6 124.3 451.3 124.4C451 124.4 450.8 124.4 450.5 124.4C450.2 124.3 450 124.2 449.8 124C449.6 123.8 449.4 123.6 449.3 123.4C449.2 123.1 449.1 122.9 449.1 122.6C449.1 122.3 449.2 122.1 449.3 121.8C449.4 121.6 449.6 121.4 449.8 121.2C450 121 450.2 120.9 450.5 120.8C450.8 120.8 451 120.8 451.3 120.8C451.6 120.9 451.8 121 452 121.2C452.2 121.4 452.4 121.6 452.5 121.8C452.6 122.1 452.7 122.3 452.7 122.6Z" fill="#0a0a0a"/>
<path d="M466.3 108.8C466.3 109 466.2 109.3 466.1 109.5C466 109.7 465.9 109.9 465.7 110.1C465.5 110.2 465.3 110.3 465.1 110.4C464.8 110.4 464.6 110.4 464.3 110.4C464.1 110.3 463.9 110.2 463.7 110.1C463.5 109.9 463.4 109.7 463.3 109.5C463.2 109.3 463.1 109 463.1 108.8C463.1 108.6 463.2 108.3 463.3 108.1C463.4 107.9 463.5 107.7 463.7 107.5C463.9 107.4 464.1 107.3 464.3 107.2C464.6 107.2 464.8 107.2 465.1 107.2C465.3 107.3 465.5 107.4 465.7 107.5C465.9 107.7 466 107.9 466.1 108.1C466.2 108.3 466.3 108.6 466.3 108.8Z" fill="#0a0a0a"/>
<path d="M355.3 92.9C355.3 93.2 355.2 93.5 355.1 93.8C355 94 354.8 94.3 354.5 94.5C354.3 94.6 354 94.8 353.7 94.8C353.5 94.9 353.1 94.9 352.9 94.8C352.6 94.8 352.3 94.6 352.1 94.5C351.8 94.3 351.6 94 351.5 93.8C351.4 93.5 351.3 93.2 351.3 92.9C351.3 92.6 351.4 92.3 351.5 92C351.6 91.8 351.8 91.5 352.1 91.3C352.3 91.2 352.6 91 352.9 91C353.1 90.9 353.5 90.9 353.7 91C354 91 354.3 91.2 354.5 91.3C354.8 91.5 355 91.8 355.1 92C355.2 92.3 355.3 92.6 355.3 92.9Z" fill="#0a0a0a"/>
<path d="M345 98C346 97.3 349.2 96.7 352 97C354.8 97.3 358.7 98.8 362 100C365.3 101.2 371 103 372 104C373 105 370.7 106.2 368 106C365.3 105.8 359.7 103.8 356 103C352.3 102.2 347.8 101.8 346 101C344.2 100.2 344 98.7 345 98Z" fill="#8d8d8d"/>
<path d="M383 84C384.8 83.2 390.5 82.7 395 82.5C399.5 82.3 405.8 82.6 410 83C414.2 83.4 418.7 84.2 420 85C421.3 85.8 420.5 87.2 418 87.5C415.5 87.8 409.3 87.1 405 87C400.7 86.9 395.5 87 392 87C388.5 87 385.5 87.5 384 87C382.5 86.5 381.2 84.8 383 84Z" fill="#8d8d8d"/>
<path d="M400 90C401.3 89.1 408.7 88.7 412 89C415.3 89.3 419.3 91 420 92C420.7 93 418.7 94.6 416 95C413.3 95.4 406.7 95.3 404 94.5C401.3 93.7 398.7 90.9 400 90Z" fill="#8d8d8d"/>
<path d="M350 118C350.8 117.2 354 116 356 116C358 116 361.8 117.2 362 118C362.2 118.8 358.8 120.5 357 121C355.2 121.5 352.2 121.5 351 121C349.8 120.5 349.2 118.8 350 118Z" fill="#8d8d8d"/>
<path d="M404 113C405 112 409.7 111 412 111C414.3 111 417.7 112 418 113C418.3 114 416 116.3 414 117C412 117.7 407.7 117.7 406 117C404.3 116.3 403 114 404 113Z" fill="#8d8d8d"/>
<path d="M420 99C421.3 98 428.7 96.8 432 97C435.3 97.2 439.3 99 440 100C440.7 101 438.7 102.5 436 103C433.3 103.5 426.7 103.7 424 103C421.3 102.3 418.7 100 420 99Z" fill="#8d8d8d"/>
<path d="M365 88C366 87.3 369.8 86.4 372 86.5C374.2 86.6 378 87.8 378 88.5C378 89.2 374 90.7 372 91C370 91.3 367.2 91 366 90.5C364.8 90 364 88.7 365 88Z" fill="#8d8d8d"/>
<path d="M297 150C297 149.4 300.5 148.5 302 148.5C303.5 148.5 306 149.4 306 150C306 150.6 303.5 152 302 152C300.5 152 297 150.6 297 150Z" fill="#8d8d8d"/>
<path d="M358.5 121.5C359.2 120 362.1 119.6 363 121C363.9 122.4 363.9 126.5 364 130C364.1 133.5 364 139.2 363.5 142C363 144.8 361.7 147.3 361 147C360.3 146.7 359.9 142.8 359.5 140C359.1 137.2 359 133.1 358.8 130C358.6 126.9 357.8 123 358.5 121.5Z" fill="#fdfc00"/>
<path d="M392.5 121C393.3 119.6 396.7 120 397.5 121.5C398.3 123 397.4 126.9 397.2 130C397 133.1 396.9 137.3 396.5 140C396.1 142.7 395.6 145.7 395 146C394.4 146.3 393.4 144.7 393 142C392.6 139.3 392.7 133.5 392.6 130C392.5 126.5 391.7 122.4 392.5 121Z" fill="#fdfc00"/>
<path d="M359.2 133C359.4 131.5 360.1 130.8 360.5 132C360.9 133.2 361.5 137.7 361.5 140C361.5 142.3 360.8 145.8 360.5 146C360.2 146.2 359.7 143.2 359.5 141C359.3 138.8 359 134.5 359.2 133Z" fill="#f86a14"/>
<path d="M395 132C395.3 131 396.1 131.5 396.3 133C396.5 134.5 396.2 139 396 141C395.8 143 395.1 145.3 394.8 145C394.5 144.7 394.3 141.2 394.3 139C394.3 136.8 394.7 133 395 132Z" fill="#f86a14"/>
<path d="M364 126C364.9 124.7 366.1 123.7 368.5 123C370.9 122.3 375.2 121.8 378.5 121.8C381.8 121.8 386.1 122.3 388.5 123C390.9 123.7 392.1 124.5 393 126C393.9 127.5 394 129.7 394.2 132C394.4 134.3 394.2 137.8 394 140C393.8 142.2 392.9 143.9 393.2 145.5C393.4 147.1 394.5 148 395.5 149.3C396.5 150.6 398.6 151.2 399.4 153.2C400.2 155.2 400.5 158.4 400.4 161.4C400.3 164.4 399.7 169.1 398.6 171.3C397.5 173.5 395.9 174.3 393.7 174.6C391.5 174.9 387.6 174.5 385.4 173.2C383.2 171.9 381.7 167.2 380.5 167C379.3 166.8 378.8 169.1 378.2 172C377.6 174.9 377.7 182.4 377 184.5C376.3 186.6 374.9 186.6 374.2 184.5C373.5 182.4 373.5 174.9 373 172C372.5 169.1 372.3 166.8 371.4 167C370.4 167.2 369.4 172.1 367.3 173.2C365.2 174.3 361 174.9 359.1 173.8C357.2 172.7 356.4 169.3 355.8 166.4C355.2 163.5 354.8 159.1 355.4 156.5C355.9 153.9 358 152.4 359.1 150.7C360.2 148.9 361.6 148.1 362.2 146C362.8 143.9 362.7 140.9 362.8 138.4C362.9 135.9 362.8 133.1 363 131C363.2 128.9 363.1 127.3 364 126Z" fill="#f4f4f4"/>
<path d="M340.6 154.6L350 150.2L361 146L362.5 149.6L351 154.8L341.4 158.2Z" fill="#f0f0f0"/>
<path d="M393.5 146L405 150.5L416.2 156L415.4 159L404 155L392.5 149.6Z" fill="#f0f0f0"/>
<path d="M366 127C367.2 125.4 369.9 125.1 372 124.6C374.1 124.1 376.5 124.2 378.8 124.2C381.1 124.2 383.9 124.1 386 124.6C388.1 125.1 390.4 125.4 391.5 127C392.6 128.6 392.4 131.6 392.3 134C392.2 136.4 392.1 139.7 391 141.5C389.9 143.3 388.1 144.3 386 145C383.9 145.7 381 145.5 378.5 145.5C376 145.5 373.1 145.7 371 145C368.9 144.3 367 143.3 366 141.5C365 139.7 365 136.4 365 134C365 131.6 364.8 128.6 366 127Z" fill="#d4d4d4"/>
<path d="M369 129C370.8 127.7 375.6 127 378.8 127C382.1 127 386.7 127.7 388.5 129C390.3 130.3 389.8 133 389.5 135C389.2 137 388.8 139.8 387 141C385.2 142.2 381.6 142.5 378.8 142.5C376.1 142.5 372.3 142.2 370.5 141C368.7 139.8 368.2 137 368 135C367.8 133 367.2 130.3 369 129Z" fill="#bdbdbd"/>
<path d="M369.8 145.2C370.3 144.3 372.7 144 374 144.2C375.3 144.4 376.5 146.3 377.7 146.3C378.9 146.3 380.1 144.4 381.4 144.2C382.7 144 384.9 144.3 385.4 145.2C385.9 146.1 385.5 148.3 384.6 149.6C383.7 150.9 381.1 152.3 380 153.2C378.9 154.1 378.5 155 377.7 155C376.9 155 376.5 154.1 375.4 153.2C374.2 152.3 371.7 150.9 370.8 149.6C369.9 148.3 369.3 146.1 369.8 145.2Z" fill="#707070"/>
<path d="M371.6 156L373 156L373.2 171L371.8 171Z" fill="#8c8c8c"/>
<path d="M378.4 156L379.8 156L379.6 171L378.2 171Z" fill="#8c8c8c"/>
<path d="M358 157C358 156.2 360.7 154.9 362 155C363.3 155.1 366 156.7 366 157.5C366 158.3 363.3 160.1 362 160C360.7 159.9 358 157.8 358 157Z" fill="#d9d9d9"/>
<path d="M386 157.5C386.2 156.7 389.5 155.4 391 155.5C392.5 155.6 395.2 157.2 395 158C394.8 158.8 391.5 160.6 390 160.5C388.5 160.4 385.8 158.3 386 157.5Z" fill="#d9d9d9"/>
<path d="M330 187L331.6 187.7 M394.4 191.3L396 190.3 M326 186.7L327.7 185.5 M392.1 189.6L395.2 189.4 M400.4 187.7L402.4 187.2 M409.2 161.6L412.8 161.2 M416.5 183.5L418.3 184.5 M324.9 160.1L328.7 161.3 M345.8 157.8L347.3 158.4 M405.4 159.1L408.1 157.8 M340.6 159.3L344.2 160.7 M421.2 163.6L422.7 164.5 M346.9 165.8L349.2 165.2 M326.1 163.3L328.2 163.5 M333.4 167.5L336.8 166.5 M406.8 166.8L408.5 167.9 M388.7 189.1L390.2 188.2 M346.4 191.3L348.4 192.2 M352.3 186.7L355.2 185.1 M424.9 167.4L428 168.1 M335.5 184L336.8 184.8 M429.2 184.3L432.3 184.2 M403.2 190.9L406.3 192.6 M366.2 192.5L369.8 192.9 M362.6 191.1L365.3 189.7 M363.2 192.2L366.1 192 M401.3 161.7L403.9 163.2 M341.4 185.5L345.1 186.2 M341.3 187.9L344.4 189.6 M363.2 190.9L365.2 189.9 M418.4 165.5L421.2 167.2 M335.9 162.3L338 161.6 M418.9 168.4L421.2 167.2 M384.2 188.3L387.1 186.5 M346.5 185.4L348.1 185.7 M429.2 191.6L431.2 191.5 M339.4 186.7L341.7 187.3 M389.5 191.9L391.8 192.7 M333.6 188.3L336.3 189.7 M427.1 189.6L430.1 188.6 M412.6 191.6L415.7 190.5 M409.2 186.7L412.7 188.3 M324.9 161.4L327.6 162.3 M318.7 165.6L320.3 166.2 M332.9 162L336 163.3" stroke="#f86a14" stroke-width="1.5" stroke-linecap="round" fill="none"/>
<path d="M338 159C338.7 158.5 343.3 158.1 346 158C348.7 157.9 353.5 158.1 354 158.5C354.5 158.9 351 160.1 349 160.5C347 160.9 343.8 161.2 342 161C340.2 160.8 337.3 159.5 338 159Z" fill="#f86a14"/>
<path d="M403 160.5C403.8 160 407.7 159.8 410 160C412.3 160.2 416.7 160.9 417 161.5C417.3 162.1 414 163.2 412 163.5C410 163.8 406.5 163.5 405 163C403.5 162.5 402.2 161 403 160.5Z" fill="#f86a14"/>
<path d="M337 185C337.5 184.2 339.7 185.2 341 186C342.3 186.8 344.7 189 345 190C345.3 191 344.2 191.8 343 192C341.8 192.2 339 192.2 338 191C337 189.8 336.5 185.8 337 185Z" fill="#f86a14"/>
<path d="M366 189.5C366.7 189 369.3 188.7 371 188.8C372.7 188.9 375.7 189.5 376 190C376.3 190.5 374.5 191.7 373 192C371.5 192.3 368.2 192.4 367 192C365.8 191.6 365.3 190 366 189.5Z" fill="#f86a14"/>
<path d="M406 190C406.7 189.4 409.5 189.2 411 189.5C412.5 189.8 414.8 190.8 415 191.5C415.2 192.2 413.3 193.2 412 193.5C410.7 193.8 408 193.6 407 193C406 192.4 405.3 190.6 406 190Z" fill="#f86a14"/>
<path d="M317 164.5C317.7 164.1 321.7 163.9 324 164C326.3 164.1 330.5 164.6 331 165C331.5 165.4 328.8 166.2 327 166.5C325.2 166.8 321.7 166.8 320 166.5C318.3 166.2 316.3 164.9 317 164.5Z" fill="#f86a14"/>
<path d="M423 176C423.2 175.3 426.5 174.3 428 174.5C429.5 174.7 432.2 176.3 432 177C431.8 177.7 428.5 178.7 427 178.5C425.5 178.3 422.8 176.7 423 176Z" fill="#f86a14"/>
<path d="M301 165C301.2 164.6 303.8 164.5 305 164.6C306.2 164.7 308.2 165.4 308 165.8C307.8 166.2 305.2 166.9 304 166.8C302.8 166.7 300.8 165.4 301 165Z" fill="#f86a14"/></g></g>
<g clip-path="url(#c2)"><g id="ct2" filter="url(#soft)"><rect x="256.3" y="330.9" width="250.2" height="165.8" fill="#000"/>
<defs><linearGradient id="stg" x1="0" y1="0" x2="0" y2="1"><stop offset="0" stop-color="#5a5a5a"/><stop offset="0.55" stop-color="#484848"/><stop offset="1" stop-color="#3c3c3c"/></linearGradient><radialGradient id="stg2" cx="0.5" cy="0.5" r="0.5"><stop offset="0" stop-color="#000" stop-opacity="0.28"/><stop offset="1" stop-color="#000" stop-opacity="0"/></radialGradient></defs>
<path d="M258.5 421C258.7 417.6 258.8 413.6 259.5 409.4C260.2 405.2 261.8 399.9 263 396C264.2 392.1 265.8 389 267 386C268.2 383 268.5 381.2 270.1 378.1C271.7 375 274.3 370.5 276.4 367.1C278.5 363.7 280.9 360.8 282.7 357.7C284.5 354.6 285.6 350.8 287.4 348.3C289.2 345.8 291 344.2 293.6 342.8C296.2 341.4 300.2 340.1 303.1 339.6C306 339.2 308.3 339.6 310.9 340.1C313.5 340.6 316.1 342.1 318.7 342.8C321.3 343.5 323.7 343.9 326.6 344.3C329.5 344.7 332.1 344.6 336 345.1C339.9 345.6 344.9 346.8 350 347.5C355.1 348.2 361.1 349 366.3 349.4C371.5 349.8 374.4 350.6 381 350C387.6 349.4 397.5 347.5 405.7 345.8C413.9 344.1 422.2 341.5 430.4 339.6C438.6 337.8 447.7 335.7 455.1 334.7C462.5 333.7 469.9 333.3 474.8 333.5C479.7 333.7 481.8 333.9 484.7 336C487.6 338.1 490.1 341.7 492.1 345.8C494.2 349.9 495.4 354.8 497 360.6C498.6 366.4 501 374.6 502 380.4C503 386.2 502.8 389.6 503.2 395.2C503.6 400.8 504.3 408.2 504.5 414C504.7 419.8 545.5 427.3 504.5 430C463.5 432.7 299.4 431.5 258.4 430C217.4 428.5 258.3 424.4 258.5 421Z" fill="url(#stg)"/>
<path d="M258.5 421.3C258.7 419.6 258.9 414.4 259.5 411C260.1 407.7 261 404.3 261.9 401.1C262.9 397.8 264.1 394.6 265.4 391.4C266.6 388.2 267.8 385 269.3 382C270.8 378.9 272.5 375.9 274.2 373C275.9 370.1 277.9 367.4 279.8 364.5C281.6 361.7 283.3 358.7 285.2 356C287.2 353.2 288.7 350 291.2 347.9C293.7 345.8 297 344.2 300.1 343.3C303.3 342.4 306.9 342.1 310.2 342.4C313.6 342.7 316.7 344.5 320.1 345.2C323.4 345.9 326.8 346.3 330.2 346.7C333.6 347.1 337.1 347.4 340.5 347.9C343.9 348.3 347.2 349 350.6 349.5C354 349.9 357.4 350.3 360.9 350.6C364.3 350.9 367.7 351.2 371.1 351.4C374.5 351.6 378 351.9 381.4 351.7C384.8 351.5 388.2 350.6 391.6 350C394.9 349.4 398.3 348.9 401.7 348.3C405.1 347.7 408.4 346.9 411.8 346.1C415.1 345.4 418.4 344.5 421.8 343.7C425.1 342.9 428.4 342 431.8 341.3C435.1 340.6 438.5 340 441.9 339.4C445.3 338.8 448.6 337.9 452 337.5C455.4 337 458.8 336.8 462.2 336.6C465.7 336.3 469.1 335.7 472.5 336C475.9 336.2 479.7 336.5 482.5 338.1C485.3 339.6 487.5 342.7 489.3 345.4C491.2 348.1 492.4 351.4 493.7 354.5C494.9 357.6 496 360.8 497 364C498 367.3 498.9 370.6 499.7 373.9C500.6 377.2 501.5 380.5 502 383.8C502.6 387.2 502.7 390.6 503 394C503.2 397.5 503.5 401 503.7 404.3C504 407.6 504.4 412.4 504.5 414" fill="none" stroke="#2a2a2a" stroke-width="0.9"/>
<path d="M258.5 421.5C258.7 419.9 259 414.8 259.6 411.4C260.2 408.1 261.1 404.8 262.1 401.6C263.1 398.4 264.3 395.2 265.6 392.1C266.9 389 268.2 385.9 269.7 382.9C271.2 379.9 272.9 377.1 274.7 374.3C276.5 371.5 278.5 368.8 280.4 366.1C282.3 363.3 284 360.5 286 357.9C287.9 355.2 289.5 352.2 292 350.2C294.5 348.1 297.8 346.6 300.9 345.7C304.1 344.8 307.6 344.5 310.9 344.8C314.2 345.1 317.4 346.8 320.7 347.4C324 348.1 327.4 348.4 330.8 348.8C334.1 349.3 337.5 349.5 340.9 349.9C344.2 350.3 347.6 351 350.9 351.4C354.3 351.9 357.7 352.2 361.1 352.5C364.4 352.8 367.8 353 371.2 353.2C374.6 353.3 378 353.7 381.4 353.4C384.8 353.2 388.1 352.3 391.5 351.8C394.8 351.2 398.2 350.8 401.5 350.1C404.8 349.5 408.2 348.8 411.5 348C414.8 347.3 418.1 346.4 421.4 345.7C424.7 344.9 428 344.1 431.3 343.4C434.6 342.8 438 342.2 441.3 341.6C444.7 341 448 340.2 451.3 339.7C454.7 339.3 458.1 339.1 461.5 338.9C464.9 338.7 468.3 338.2 471.6 338.4C475 338.7 478.8 338.9 481.6 340.4C484.4 341.9 486.5 344.8 488.4 347.5C490.3 350.1 491.6 353.2 492.9 356.2C494.3 359.2 495.4 362.3 496.5 365.4C497.5 368.6 498.5 371.8 499.4 375C500.3 378.2 501.3 381.5 501.8 384.8C502.4 388.1 502.6 391.5 502.9 394.8C503.2 398.2 503.4 401.8 503.6 405C503.9 408.2 504.4 412.5 504.5 414" fill="none" stroke="#6a6a6a" stroke-width="0.7"/>
<path d="M258.5 421.8C258.7 420.2 259.1 415.1 259.7 411.8C260.3 408.6 261.2 405.3 262.2 402.1C263.2 398.9 264.5 395.9 265.8 392.8C267.2 389.8 268.5 386.7 270 383.8C271.6 381 273.4 378.2 275.2 375.5C277 372.8 279.1 370.2 281 367.6C282.9 365 284.7 362.4 286.7 359.8C288.7 357.3 290.3 354.4 292.8 352.4C295.4 350.5 298.6 349 301.7 348.1C304.8 347.2 308.3 347 311.6 347.2C314.9 347.5 318 349.1 321.3 349.7C324.6 350.3 327.9 350.6 331.3 351C334.6 351.4 337.9 351.6 341.3 352C344.6 352.4 347.9 353 351.2 353.4C354.6 353.8 357.9 354.1 361.3 354.3C364.6 354.6 368 354.8 371.3 355C374.7 355.1 378.1 355.4 381.4 355.2C384.7 355 388 354.1 391.4 353.6C394.7 353.1 398 352.6 401.3 352C404.6 351.4 407.9 350.7 411.2 350C414.5 349.2 417.7 348.4 421 347.7C424.3 346.9 427.5 346.2 430.8 345.5C434.1 344.9 437.5 344.4 440.8 343.8C444.1 343.2 447.4 342.4 450.7 342C454 341.6 457.4 341.4 460.7 341.2C464.1 341 467.5 340.6 470.8 340.8C474.1 341.1 477.8 341.3 480.6 342.8C483.4 344.2 485.6 347 487.5 349.6C489.4 352.1 490.8 355 492.2 357.9C493.6 360.8 494.8 363.8 495.9 366.8C497.1 369.9 498.1 373 499.1 376.1C500 379.3 501 382.4 501.7 385.7C502.3 389 502.5 392.3 502.8 395.6C503.1 399 503.3 402.6 503.6 405.7C503.9 408.8 504.3 412.6 504.5 414" fill="none" stroke="#2a2a2a" stroke-width="0.9"/>
<path d="M258.5 422.1C258.7 420.5 259.1 415.5 259.8 412.2C260.4 409 261.3 405.7 262.3 402.6C263.4 399.5 264.7 396.5 266.1 393.5C267.4 390.6 268.8 387.6 270.4 384.8C272 382 273.8 379.3 275.7 376.7C277.5 374.1 279.6 371.7 281.6 369.2C283.5 366.7 285.4 364.2 287.4 361.7C289.4 359.3 291.2 356.5 293.7 354.7C296.2 352.8 299.4 351.4 302.5 350.5C305.6 349.7 309.1 349.4 312.3 349.7C315.5 349.9 318.6 351.3 321.9 351.9C325.1 352.5 328.5 352.8 331.8 353.1C335.1 353.5 338.4 353.6 341.7 354C345 354.4 348.2 355 351.5 355.3C354.8 355.7 358.2 356 361.5 356.2C364.8 356.4 368.1 356.7 371.4 356.8C374.7 356.9 378.1 357.2 381.4 356.9C384.7 356.7 388 355.9 391.3 355.4C394.5 354.9 397.8 354.4 401.1 353.9C404.4 353.3 407.6 352.6 410.9 351.9C414.1 351.2 417.4 350.4 420.6 349.7C423.9 349 427.1 348.3 430.4 347.6C433.6 347 436.9 346.5 440.2 346C443.5 345.4 446.7 344.7 450 344.3C453.3 343.9 456.6 343.7 460 343.6C463.3 343.4 466.6 343 469.9 343.2C473.2 343.5 476.9 343.7 479.7 345.1C482.5 346.5 484.7 349.2 486.6 351.6C488.6 354.1 490 356.9 491.5 359.7C492.9 362.4 494.2 365.3 495.4 368.2C496.6 371.2 497.7 374.2 498.8 377.2C499.8 380.3 500.8 383.4 501.5 386.6C502.1 389.8 502.4 393.2 502.7 396.4C503.1 399.7 503.2 403.5 503.5 406.4C503.8 409.3 504.3 412.7 504.5 414" fill="none" stroke="#6a6a6a" stroke-width="0.7"/>
<path d="M258.5 422.4C258.7 420.7 259.2 415.9 259.9 412.7C260.5 409.4 261.4 406.2 262.5 403.1C263.5 400.1 264.9 397.2 266.3 394.3C267.7 391.4 269.1 388.4 270.8 385.7C272.4 383 274.3 380.4 276.2 377.9C278.1 375.5 280.2 373.1 282.2 370.7C284.2 368.4 286.1 366 288.2 363.7C290.2 361.4 292 358.7 294.5 356.9C297 355.1 300.2 353.7 303.3 352.9C306.4 352.1 309.8 351.9 313 352.1C316.2 352.3 319.3 353.6 322.5 354.2C325.7 354.7 329 354.9 332.3 355.3C335.5 355.6 338.8 355.7 342.1 356.1C345.4 356.4 348.6 356.9 351.9 357.3C355.1 357.6 358.4 357.9 361.7 358.1C365 358.3 368.2 358.5 371.5 358.6C374.8 358.7 378.1 358.9 381.4 358.7C384.7 358.5 387.9 357.7 391.2 357.2C394.4 356.7 397.7 356.3 400.9 355.7C404.2 355.1 407.4 354.5 410.6 353.8C413.8 353.1 417 352.4 420.2 351.7C423.5 351 426.7 350.3 429.9 349.7C433.1 349.2 436.4 348.7 439.6 348.2C442.9 347.6 446.1 346.9 449.4 346.6C452.6 346.2 455.9 346.1 459.2 345.9C462.5 345.8 465.8 345.4 469.1 345.6C472.3 345.9 475.9 346.1 478.7 347.5C481.5 348.8 483.7 351.4 485.7 353.7C487.7 356 489.2 358.7 490.7 361.4C492.3 364 493.6 366.8 494.9 369.6C496.2 372.5 497.4 375.4 498.4 378.4C499.5 381.4 500.6 384.4 501.3 387.6C502 390.7 502.3 394 502.6 397.2C503 400.5 503.1 404.3 503.4 407.1C503.8 409.9 504.3 412.8 504.5 414" fill="none" stroke="#2a2a2a" stroke-width="0.9"/>
<path d="M258.5 422.6C258.7 421 259.3 416.2 260 413.1C260.7 409.9 261.5 406.7 262.6 403.7C263.7 400.7 265.1 397.8 266.6 395C268 392.1 269.4 389.3 271.1 386.7C272.8 384 274.7 381.6 276.7 379.2C278.6 376.8 280.8 374.6 282.8 372.3C284.8 370 286.8 367.8 288.9 365.6C291 363.4 292.8 360.9 295.3 359.2C297.9 357.5 301 356.1 304.1 355.3C307.1 354.6 310.5 354.3 313.7 354.5C316.8 354.7 319.9 355.9 323.1 356.4C326.3 356.9 329.5 357.1 332.8 357.4C336 357.7 339.3 357.8 342.5 358.1C345.7 358.4 348.9 358.9 352.2 359.2C355.4 359.5 358.6 359.7 361.9 359.9C365.1 360.1 368.4 360.3 371.6 360.4C374.9 360.5 378.2 360.7 381.4 360.5C384.6 360.2 387.8 359.5 391.1 359C394.3 358.5 397.5 358.1 400.7 357.6C403.9 357 407.1 356.4 410.3 355.7C413.5 355.1 416.7 354.3 419.9 353.7C423 353 426.2 352.4 429.4 351.8C432.6 351.3 435.9 350.8 439.1 350.3C442.3 349.8 445.5 349.2 448.7 348.8C451.9 348.5 455.2 348.4 458.4 348.2C461.7 348.1 465 347.8 468.2 348C471.4 348.3 475 348.6 477.7 349.9C480.5 351.1 482.8 353.6 484.8 355.8C486.9 358 488.4 360.6 490 363.1C491.6 365.7 493 368.3 494.4 371C495.7 373.8 497 376.6 498.1 379.5C499.2 382.4 500.4 385.4 501.1 388.5C501.9 391.6 502.2 394.8 502.6 398C502.9 401.3 503.1 405.1 503.4 407.8C503.7 410.4 504.3 413 504.5 414" fill="none" stroke="#6a6a6a" stroke-width="0.7"/>
<path d="M258.5 422.9C258.7 421.3 259.4 416.6 260.1 413.5C260.8 410.3 261.6 407.1 262.7 404.2C263.8 401.2 265.4 398.4 266.8 395.7C268.3 392.9 269.8 390.1 271.5 387.6C273.2 385.1 275.2 382.7 277.2 380.4C279.1 378.1 281.3 376 283.4 373.9C285.5 371.7 287.5 369.6 289.6 367.5C291.7 365.4 293.6 363.1 296.2 361.4C298.7 359.8 301.8 358.5 304.9 357.8C307.9 357 311.2 356.7 314.4 356.9C317.5 357 320.6 358.2 323.7 358.6C326.9 359.1 330.1 359.3 333.3 359.5C336.5 359.8 339.7 359.9 342.9 360.2C346.1 360.5 349.3 360.9 352.5 361.2C355.7 361.4 358.9 361.6 362.1 361.8C365.3 362 368.5 362.1 371.7 362.2C375 362.2 378.2 362.4 381.4 362.2C384.6 362 387.8 361.3 391 360.8C394.2 360.4 397.4 359.9 400.5 359.4C403.7 358.9 406.9 358.3 410 357.6C413.2 357 416.3 356.3 419.5 355.7C422.6 355.1 425.8 354.5 429 353.9C432.1 353.4 435.3 353 438.5 352.5C441.7 352.1 444.8 351.4 448 351.1C451.2 350.8 454.5 350.7 457.7 350.6C460.9 350.5 464.1 350.2 467.3 350.5C470.5 350.7 474 351 476.8 352.2C479.6 353.4 481.8 355.8 483.9 357.9C486 360 487.6 362.4 489.3 364.9C490.9 367.3 492.4 369.8 493.8 372.4C495.2 375.1 496.6 377.8 497.8 380.6C499 383.5 500.2 386.4 500.9 389.5C501.7 392.5 502.1 395.7 502.5 398.8C502.9 402 503 406 503.3 408.5C503.7 411 504.3 413.1 504.5 414" fill="none" stroke="#2a2a2a" stroke-width="0.9"/>
<path d="M258.5 423.2C258.7 421.6 259.4 416.9 260.2 413.9C260.9 410.8 261.7 407.6 262.9 404.7C264 401.8 265.6 399.1 267.1 396.4C268.6 393.7 270.1 391 271.9 388.5C273.6 386.1 275.6 383.8 277.7 381.6C279.7 379.5 281.9 377.5 284 375.4C286.1 373.4 288.2 371.4 290.3 369.4C292.5 367.5 294.4 365.2 297 363.7C299.5 362.1 302.6 360.9 305.6 360.2C308.6 359.4 311.9 359.2 315.1 359.3C318.2 359.4 321.2 360.5 324.3 360.9C327.4 361.3 330.6 361.4 333.8 361.7C337 361.9 340.1 362 343.3 362.2C346.5 362.5 349.6 362.9 352.8 363.1C355.9 363.4 359.1 363.5 362.3 363.7C365.5 363.8 368.7 363.9 371.8 364C375 364 378.2 364.2 381.4 364C384.6 363.7 387.7 363.1 390.9 362.6C394 362.2 397.2 361.8 400.3 361.3C403.5 360.7 406.6 360.2 409.7 359.6C412.9 359 416 358.3 419.1 357.7C422.2 357.1 425.3 356.5 428.5 356C431.6 355.5 434.8 355.2 437.9 354.7C441.1 354.3 444.2 353.7 447.4 353.4C450.5 353.1 453.7 353 456.9 352.9C460.1 352.8 463.3 352.6 466.5 352.9C469.6 353.1 473.1 353.4 475.8 354.6C478.6 355.7 480.9 357.9 483 359.9C485.1 361.9 486.8 364.3 488.5 366.6C490.3 368.9 491.8 371.3 493.3 373.8C494.8 376.4 496.2 379 497.5 381.8C498.7 384.5 499.9 387.4 500.8 390.4C501.6 393.4 502 396.5 502.4 399.6C502.8 402.8 502.9 406.8 503.2 409.2C503.6 411.6 504.3 413.2 504.5 414" fill="none" stroke="#6a6a6a" stroke-width="0.7"/>
<path d="M258.5 423.5C258.8 421.9 259.5 417.3 260.3 414.3C261 411.2 261.8 408.1 263 405.2C264.2 402.4 265.8 399.7 267.3 397.1C268.8 394.5 270.4 391.9 272.2 389.5C274 387.1 276.1 385 278.1 382.9C280.2 380.8 282.5 378.9 284.6 377C286.8 375.1 288.9 373.2 291.1 371.3C293.3 369.5 295.3 367.4 297.8 365.9C300.4 364.5 303.4 363.3 306.4 362.6C309.4 361.9 312.7 361.6 315.7 361.7C318.8 361.8 321.8 362.8 324.9 363.1C328 363.5 331.2 363.6 334.3 363.8C337.4 364 340.6 364.1 343.7 364.3C346.8 364.5 350 364.9 353.1 365.1C356.2 365.3 359.4 365.4 362.5 365.5C365.6 365.6 368.8 365.7 371.9 365.8C375.1 365.8 378.3 365.9 381.4 365.7C384.5 365.5 387.6 364.9 390.8 364.4C393.9 364 397 363.6 400.1 363.1C403.3 362.6 406.4 362.1 409.5 361.5C412.5 360.9 415.6 360.3 418.7 359.7C421.8 359.1 424.9 358.6 428 358.1C431.1 357.7 434.3 357.3 437.4 356.9C440.5 356.5 443.6 356 446.7 355.7C449.9 355.4 453 355.3 456.2 355.3C459.3 355.2 462.5 355 465.6 355.3C468.7 355.6 472.1 355.8 474.9 356.9C477.6 358 480 360.1 482.1 362C484.3 363.9 486 366.1 487.8 368.3C489.6 370.5 491.2 372.8 492.8 375.2C494.3 377.6 495.8 380.2 497.1 382.9C498.4 385.6 499.7 388.4 500.6 391.3C501.4 394.3 501.9 397.4 502.3 400.4C502.8 403.5 502.8 407.6 503.2 409.9C503.5 412.1 504.3 413.3 504.5 414" fill="none" stroke="#2a2a2a" stroke-width="0.9"/>
<path d="M258.5 423.7C258.8 422.2 259.6 417.7 260.4 414.7C261.1 411.7 261.9 408.6 263.1 405.7C264.3 402.9 266 400.4 267.5 397.8C269.1 395.3 270.7 392.7 272.6 390.4C274.4 388.1 276.5 386.1 278.6 384.1C280.7 382.1 283 380.3 285.2 378.5C287.4 376.7 289.6 375 291.8 373.3C294 371.5 296.1 369.6 298.6 368.2C301.2 366.8 304.2 365.7 307.2 365C310.2 364.3 313.4 364.1 316.4 364.1C319.5 364.2 322.5 365.1 325.5 365.4C328.6 365.7 331.7 365.8 334.8 365.9C337.9 366.1 341 366.2 344.1 366.3C347.2 366.5 350.3 366.8 353.4 367C356.5 367.2 359.6 367.3 362.7 367.4C365.8 367.5 368.9 367.6 372 367.6C375.2 367.6 378.3 367.7 381.4 367.5C384.5 367.2 387.6 366.7 390.7 366.2C393.8 365.8 396.9 365.4 399.9 365C403 364.5 406.1 364 409.2 363.4C412.2 362.9 415.3 362.2 418.3 361.7C421.4 361.2 424.5 360.7 427.5 360.2C430.6 359.8 433.7 359.5 436.8 359.1C439.9 358.7 443 358.2 446.1 358C449.2 357.7 452.3 357.6 455.4 357.6C458.5 357.5 461.6 357.4 464.7 357.7C467.8 358 471.2 358.2 473.9 359.3C476.7 360.4 479 362.3 481.2 364.1C483.4 365.9 485.2 368 487.1 370.1C488.9 372.1 490.6 374.3 492.3 376.6C493.9 378.9 495.4 381.4 496.8 384C498.2 386.6 499.5 389.4 500.4 392.3C501.3 395.2 501.8 398.2 502.2 401.2C502.7 404.3 502.7 408.4 503.1 410.6C503.5 412.7 504.3 413.4 504.5 414" fill="none" stroke="#6a6a6a" stroke-width="0.7"/>
<path d="M258.4 424C258.8 422.5 259.7 418 260.5 415.1C261.3 412.1 262 409 263.2 406.3C264.5 403.5 266.2 401 267.8 398.5C269.4 396.1 271.1 393.6 272.9 391.4C274.8 389.2 277 387.2 279.1 385.3C281.3 383.5 283.6 381.8 285.8 380.1C288 378.4 290.3 376.8 292.5 375.2C294.8 373.6 296.9 371.7 299.5 370.4C302 369.1 305 368.1 308 367.4C310.9 366.8 314.1 366.5 317.1 366.5C320.1 366.6 323.1 367.4 326.1 367.6C329.2 367.9 332.2 368 335.3 368.1C338.4 368.2 341.5 368.3 344.5 368.4C347.6 368.5 350.6 368.8 353.7 369C356.8 369.1 359.8 369.2 362.9 369.3C366 369.3 369.1 369.4 372.1 369.4C375.2 369.4 378.3 369.4 381.4 369.2C384.5 369 387.5 368.4 390.6 368C393.6 367.6 396.7 367.3 399.7 366.8C402.8 366.4 405.8 365.8 408.9 365.3C411.9 364.8 414.9 364.2 418 363.7C421 363.2 424 362.7 427.1 362.3C430.1 361.9 433.2 361.6 436.2 361.3C439.3 360.9 442.3 360.5 445.4 360.2C448.5 360 451.6 360 454.6 359.9C457.7 359.9 460.8 359.8 463.9 360.1C466.9 360.4 470.2 360.6 473 361.6C475.7 362.7 478.1 364.5 480.3 366.2C482.5 367.9 484.4 369.8 486.3 371.8C488.3 373.8 490 375.8 491.7 378C493.4 380.2 495.1 382.6 496.5 385.2C497.9 387.7 499.3 390.4 500.2 393.2C501.2 396 501.7 399 502.2 402C502.6 405 502.7 409.3 503 411.3C503.4 413.3 504.3 413.5 504.5 414" fill="none" stroke="#2a2a2a" stroke-width="0.9"/>
<path d="M258.4 424.3C258.8 422.8 259.7 418.4 260.6 415.5C261.4 412.6 262.1 409.5 263.4 406.8C264.6 404.1 266.4 401.7 268 399.2C269.7 396.8 271.4 394.4 273.3 392.3C275.2 390.2 277.4 388.3 279.6 386.6C281.8 384.8 284.1 383.2 286.4 381.7C288.7 380.1 290.9 378.6 293.3 377.1C295.6 375.6 297.7 373.9 300.3 372.7C302.9 371.5 305.9 370.5 308.8 369.8C311.7 369.2 314.8 369 317.8 369C320.8 369 323.7 369.6 326.7 369.9C329.7 370.1 332.8 370.1 335.8 370.2C338.8 370.3 341.9 370.3 344.9 370.5C348 370.6 351 370.8 354 370.9C357 371 360.1 371.1 363.1 371.1C366.2 371.2 369.2 371.2 372.3 371.2C375.3 371.1 378.4 371.2 381.4 371C384.4 370.8 387.4 370.2 390.5 369.8C393.5 369.5 396.5 369.1 399.6 368.7C402.6 368.2 405.6 367.7 408.6 367.2C411.6 366.8 414.6 366.2 417.6 365.7C420.6 365.2 423.6 364.8 426.6 364.4C429.6 364.1 432.7 363.8 435.7 363.5C438.7 363.2 441.7 362.7 444.7 362.5C447.8 362.3 450.8 362.3 453.9 362.3C456.9 362.3 460 362.2 463 362.5C466 362.8 469.3 363 472 364C474.7 365 477.1 366.7 479.4 368.3C481.7 369.8 483.6 371.7 485.6 373.5C487.6 375.4 489.4 377.3 491.2 379.4C493 381.5 494.7 383.8 496.1 386.3C497.6 388.8 499 391.4 500 394.2C501 396.9 501.6 399.9 502.1 402.8C502.6 405.8 502.6 410.1 503 412C503.4 413.8 504.2 413.7 504.5 414" fill="none" stroke="#6a6a6a" stroke-width="0.7"/>
<path d="M258.4 424.5C258.8 423.1 259.8 418.7 260.7 415.9C261.5 413 262.2 410 263.5 407.3C264.8 404.7 266.6 402.3 268.3 400C270 397.6 271.7 395.3 273.7 393.2C275.6 391.2 277.9 389.5 280.1 387.8C282.3 386.1 284.7 384.7 287 383.2C289.3 381.7 291.6 380.4 294 379C296.3 377.7 298.5 376.1 301.1 374.9C303.7 373.8 306.7 372.8 309.6 372.2C312.5 371.7 315.5 371.4 318.5 371.4C321.5 371.3 324.4 371.9 327.3 372.1C330.3 372.3 333.3 372.3 336.3 372.4C339.3 372.4 342.3 372.4 345.3 372.5C348.3 372.6 351.3 372.8 354.3 372.9C357.3 372.9 360.3 373 363.3 373C366.3 373 369.3 373 372.4 373C375.4 372.9 378.4 373 381.4 372.7C384.4 372.5 387.4 372 390.4 371.6C393.4 371.3 396.4 370.9 399.4 370.5C402.3 370.1 405.3 369.6 408.3 369.2C411.3 368.7 414.2 368.1 417.2 367.7C420.2 367.3 423.2 366.9 426.1 366.5C429.1 366.2 432.1 366 435.1 365.7C438.1 365.4 441.1 365 444.1 364.8C447.1 364.6 450.1 364.6 453.1 364.6C456.1 364.6 459.1 364.6 462.1 364.9C465.1 365.2 468.3 365.5 471 366.4C473.8 367.3 476.2 368.8 478.5 370.3C480.8 371.8 482.9 373.5 484.9 375.3C486.9 377 488.9 378.8 490.7 380.8C492.5 382.8 494.3 385 495.8 387.4C497.4 389.8 498.8 392.4 499.9 395.1C500.9 397.8 501.5 400.7 502 403.6C502.5 406.6 502.5 410.9 502.9 412.6C503.3 414.4 504.2 413.8 504.5 414" fill="none" stroke="#2a2a2a" stroke-width="0.9"/>
<path d="M258.4 424.8C258.8 423.4 259.9 419.1 260.8 416.3C261.6 413.4 262.3 410.4 263.6 407.8C264.9 405.2 266.8 403 268.5 400.7C270.2 398.4 272 396.1 274 394.2C276 392.2 278.3 390.6 280.6 389C282.9 387.4 285.3 386.1 287.6 384.8C290 383.4 292.3 382.2 294.7 381C297.1 379.7 299.4 378.2 302 377.2C304.6 376.1 307.5 375.2 310.3 374.7C313.2 374.1 316.2 373.8 319.2 373.8C322.1 373.7 325 374.2 327.9 374.3C330.9 374.5 333.9 374.5 336.8 374.5C339.8 374.5 342.8 374.5 345.7 374.6C348.7 374.6 351.7 374.8 354.6 374.8C357.6 374.9 360.6 374.9 363.5 374.9C366.5 374.9 369.5 374.8 372.5 374.8C375.4 374.7 378.4 374.7 381.4 374.5C384.4 374.3 387.3 373.8 390.3 373.5C393.2 373.1 396.2 372.8 399.2 372.4C402.1 372 405.1 371.5 408 371.1C410.9 370.6 413.9 370.1 416.8 369.7C419.8 369.3 422.7 369 425.7 368.7C428.6 368.3 431.6 368.1 434.5 367.9C437.5 367.6 440.5 367.2 443.4 367.1C446.4 366.9 449.4 366.9 452.3 366.9C455.3 367 458.3 367 461.3 367.3C464.2 367.6 467.3 367.9 470.1 368.7C472.8 369.6 475.3 371 477.6 372.4C479.9 373.8 482.1 375.4 484.2 377C486.2 378.6 488.3 380.3 490.1 382.2C492 384.1 493.9 386.3 495.5 388.6C497.1 390.9 498.6 393.4 499.7 396.1C500.7 398.7 501.4 401.6 501.9 404.4C502.5 407.3 502.4 411.7 502.8 413.3C503.3 414.9 504.2 413.9 504.5 414" fill="none" stroke="#6a6a6a" stroke-width="0.7"/>
<path d="M258.4 425.1C258.8 423.7 260 419.5 260.9 416.7C261.7 413.9 262.4 410.9 263.8 408.4C265.1 405.8 267 403.6 268.7 401.4C270.5 399.2 272.3 397 274.4 395.1C276.5 393.3 278.8 391.7 281.1 390.2C283.4 388.8 285.8 387.6 288.2 386.3C290.6 385.1 293 384 295.4 382.9C297.9 381.7 300.2 380.4 302.8 379.4C305.4 378.5 308.3 377.6 311.1 377.1C314 376.5 317 376.3 319.9 376.2C322.8 376.1 325.6 376.5 328.5 376.6C331.5 376.7 334.4 376.6 337.3 376.6C340.3 376.6 343.2 376.6 346.1 376.6C349.1 376.6 352 376.7 354.9 376.8C357.9 376.8 360.8 376.8 363.7 376.7C366.7 376.7 369.6 376.6 372.6 376.6C375.5 376.5 378.5 376.5 381.4 376.2C384.3 376 387.3 375.6 390.2 375.3C393.1 374.9 396 374.6 399 374.2C401.9 373.8 404.8 373.4 407.7 373C410.6 372.6 413.5 372.1 416.4 371.7C419.4 371.3 422.3 371 425.2 370.8C428.1 370.5 431.1 370.3 434 370C436.9 369.8 439.8 369.5 442.8 369.3C445.7 369.2 448.6 369.2 451.6 369.3C454.5 369.3 457.5 369.4 460.4 369.7C463.3 370 466.4 370.3 469.1 371.1C471.8 371.9 474.3 373.2 476.7 374.5C479.1 375.8 481.3 377.2 483.4 378.7C485.6 380.2 487.7 381.8 489.6 383.6C491.6 385.4 493.5 387.5 495.2 389.7C496.8 391.9 498.4 394.4 499.5 397C500.6 399.6 501.3 402.4 501.8 405.2C502.4 408.1 502.3 412.6 502.8 414C503.2 415.5 504.2 414 504.5 414" fill="none" stroke="#2a2a2a" stroke-width="0.9"/>
<path d="M258.4 425.4C258.8 424 260 419.8 261 417.1C261.9 414.3 262.6 411.4 263.9 408.9C265.2 406.4 267.2 404.2 269 402.1C270.8 400 272.7 397.8 274.8 396.1C276.9 394.3 279.2 392.8 281.6 391.5C283.9 390.1 286.4 389 288.8 387.9C291.3 386.8 293.7 385.8 296.2 384.8C298.6 383.8 301 382.6 303.6 381.7C306.2 380.8 309.1 380 311.9 379.5C314.7 379 317.7 378.7 320.6 378.6C323.4 378.5 326.3 378.8 329.2 378.8C332 378.9 334.9 378.8 337.8 378.8C340.7 378.8 343.6 378.7 346.5 378.7C349.4 378.7 352.3 378.7 355.2 378.7C358.1 378.7 361 378.6 364 378.6C366.9 378.5 369.8 378.5 372.7 378.4C375.6 378.3 378.5 378.2 381.4 378C384.3 377.8 387.2 377.4 390.1 377.1C393 376.7 395.9 376.4 398.8 376.1C401.7 375.7 404.5 375.3 407.4 374.9C410.3 374.5 413.2 374.1 416.1 373.7C418.9 373.4 421.8 373.1 424.7 372.9C427.6 372.6 430.5 372.4 433.4 372.2C436.3 372 439.2 371.7 442.1 371.6C445 371.5 447.9 371.5 450.8 371.6C453.7 371.7 456.6 371.8 459.5 372.2C462.4 372.5 465.4 372.7 468.2 373.4C470.9 374.2 473.4 375.4 475.8 376.6C478.2 377.7 480.5 379.1 482.7 380.5C484.9 381.9 487.1 383.3 489.1 385C491.1 386.7 493.1 388.7 494.8 390.8C496.5 393 498.2 395.4 499.3 397.9C500.5 400.5 501.2 403.2 501.8 406C502.3 408.8 502.3 413.4 502.7 414.7C503.2 416.1 504.2 414.1 504.5 414" fill="none" stroke="#6a6a6a" stroke-width="0.7"/>
<path d="M258.4 425.6C258.9 424.3 260.1 420.2 261 417.5C262 414.8 262.7 411.8 264 409.4C265.4 407 267.4 404.9 269.2 402.8C271.1 400.7 273 398.7 275.1 397C277.3 395.3 279.7 394 282.1 392.7C284.5 391.4 287 390.4 289.4 389.4C291.9 388.4 294.4 387.6 296.9 386.7C299.4 385.8 301.8 384.7 304.4 383.9C307.1 383.1 309.9 382.4 312.7 381.9C315.5 381.4 318.4 381.2 321.2 381C324.1 380.9 326.9 381.1 329.8 381.1C332.6 381.1 335.5 381 338.3 380.9C341.2 380.9 344.1 380.8 347 380.7C349.8 380.7 352.7 380.7 355.5 380.7C358.4 380.6 361.3 380.5 364.2 380.5C367 380.4 369.9 380.3 372.8 380.2C375.6 380 378.5 380 381.4 379.8C384.3 379.5 387.1 379.2 390 378.9C392.9 378.6 395.7 378.3 398.6 377.9C401.4 377.6 404.3 377.2 407.1 376.8C410 376.5 412.8 376 415.7 375.7C418.5 375.4 421.4 375.2 424.3 375C427.1 374.7 430 374.6 432.9 374.4C435.7 374.2 438.6 374 441.5 373.9C444.3 373.8 447.2 373.8 450.1 374C452.9 374.1 455.8 374.3 458.7 374.6C461.5 374.9 464.5 375.1 467.2 375.8C469.9 376.5 472.4 377.6 474.9 378.6C477.4 379.7 479.7 380.9 482 382.2C484.2 383.5 486.5 384.8 488.6 386.4C490.7 388 492.8 389.9 494.5 392C496.3 394 497.9 396.4 499.1 398.9C500.3 401.4 501.1 404.1 501.7 406.8C502.3 409.6 502.2 414.2 502.6 415.4C503.1 416.6 504.2 414.2 504.5 414" fill="none" stroke="#2a2a2a" stroke-width="0.9"/>
<path d="M258.4 425.9C258.9 424.6 260.2 420.6 261.1 417.9C262.1 415.2 262.8 412.3 264.2 409.9C265.5 407.5 267.6 405.5 269.5 403.5C271.4 401.5 273.3 399.5 275.5 397.9C277.7 396.3 280.2 395.1 282.6 393.9C285 392.8 287.5 391.9 290 391C292.5 390.1 295.1 389.4 297.6 388.6C300.2 387.8 302.6 386.9 305.3 386.2C307.9 385.5 310.7 384.8 313.5 384.3C316.3 383.9 319.1 383.6 321.9 383.4C324.7 383.3 327.5 383.4 330.4 383.3C333.2 383.3 336 383.1 338.9 383.1C341.7 383 344.5 382.9 347.4 382.8C350.2 382.7 353 382.7 355.9 382.6C358.7 382.5 361.5 382.4 364.4 382.3C367.2 382.2 370 382.1 372.9 382C375.7 381.8 378.6 381.7 381.4 381.5C384.2 381.3 387.1 381 389.9 380.7C392.7 380.4 395.6 380.1 398.4 379.8C401.2 379.5 404 379.1 406.8 378.8C409.7 378.4 412.5 378 415.3 377.7C418.1 377.4 421 377.2 423.8 377.1C426.6 376.9 429.5 376.8 432.3 376.6C435.1 376.5 438 376.2 440.8 376.2C443.6 376.1 446.5 376.2 449.3 376.3C452.1 376.4 455 376.7 457.8 377C460.6 377.3 463.5 377.5 466.2 378.2C468.9 378.8 471.5 379.8 474 380.7C476.5 381.7 478.9 382.7 481.2 383.9C483.6 385.1 485.9 386.3 488 387.8C490.2 389.3 492.4 391.1 494.2 393.1C496 395.1 497.7 397.4 498.9 399.8C500.2 402.2 501 404.9 501.6 407.6C502.2 410.4 502.1 415.1 502.6 416.1C503.1 417.2 504.2 414.4 504.5 414" fill="none" stroke="#6a6a6a" stroke-width="0.7"/>
<path d="M258.4 426.2C258.9 424.9 260.3 420.9 261.2 418.3C262.2 415.7 262.9 412.8 264.3 410.4C265.7 408.1 267.8 406.2 269.7 404.2C271.6 402.3 273.6 400.4 275.8 398.9C278.1 397.4 280.6 396.2 283.1 395.2C285.5 394.1 288.1 393.3 290.6 392.6C293.2 391.8 295.8 391.2 298.3 390.6C300.9 389.9 303.4 389.1 306.1 388.4C308.7 387.8 311.5 387.2 314.3 386.7C317 386.3 319.8 386 322.6 385.8C325.4 385.6 328.2 385.7 331 385.6C333.8 385.4 336.6 385.3 339.4 385.2C342.2 385.1 345 384.9 347.8 384.8C350.6 384.7 353.4 384.7 356.2 384.6C359 384.4 361.8 384.3 364.6 384.2C367.4 384.1 370.2 383.9 373 383.8C375.8 383.6 378.6 383.5 381.4 383.3C384.2 383 387 382.7 389.8 382.5C392.6 382.2 395.4 381.9 398.2 381.6C401 381.3 403.8 381 406.6 380.7C409.3 380.4 412.1 380 414.9 379.7C417.7 379.5 420.5 379.3 423.3 379.2C426.1 379 428.9 378.9 431.7 378.8C434.5 378.7 437.3 378.5 440.1 378.4C442.9 378.4 445.7 378.5 448.5 378.6C451.3 378.8 454.1 379.1 456.9 379.4C459.7 379.7 462.6 379.9 465.3 380.5C468 381.1 470.6 381.9 473.1 382.8C475.6 383.7 478.1 384.6 480.5 385.7C482.9 386.7 485.3 387.8 487.5 389.2C489.7 390.6 492 392.3 493.9 394.2C495.7 396.1 497.5 398.4 498.8 400.8C500 403.1 500.9 405.8 501.5 408.4C502.1 411.1 502 415.9 502.5 416.8C503 417.7 504.2 414.5 504.5 414" fill="none" stroke="#2a2a2a" stroke-width="0.9"/>
<path d="M258.4 426.5C258.9 425.2 260.3 421.3 261.3 418.7C262.3 416.1 263 413.3 264.4 411C265.8 408.7 268 406.8 269.9 405C271.9 403.1 273.9 401.2 276.2 399.8C278.5 398.4 281.1 397.3 283.6 396.4C286.1 395.4 288.7 394.8 291.2 394.1C293.8 393.5 296.5 393 299.1 392.5C301.7 391.9 304.3 391.2 306.9 390.7C309.6 390.1 312.3 389.6 315 389.1C317.8 388.7 320.6 388.5 323.3 388.2C326.1 388 328.8 388 331.6 387.8C334.3 387.6 337.1 387.5 339.9 387.3C342.6 387.2 345.4 387 348.2 386.9C350.9 386.8 353.7 386.6 356.5 386.5C359.2 386.4 362 386.2 364.8 386.1C367.5 385.9 370.3 385.7 373.1 385.6C375.9 385.4 378.6 385.2 381.4 385C384.2 384.8 386.9 384.5 389.7 384.3C392.5 384 395.2 383.7 398 383.5C400.7 383.2 403.5 382.9 406.3 382.6C409 382.3 411.8 381.9 414.5 381.7C417.3 381.5 420.1 381.4 422.8 381.3C425.6 381.1 428.4 381.1 431.2 381C433.9 380.9 436.7 380.7 439.5 380.7C442.2 380.7 445 380.8 447.8 381C450.5 381.1 453.3 381.5 456.1 381.8C458.8 382.1 461.6 382.4 464.3 382.9C467 383.4 469.6 384.1 472.2 384.9C474.8 385.6 477.3 386.4 479.8 387.4C482.2 388.3 484.7 389.3 487 390.6C489.3 391.9 491.6 393.5 493.5 395.3C495.5 397.2 497.3 399.4 498.6 401.7C499.9 404 500.8 406.6 501.4 409.2C502.1 411.9 501.9 416.7 502.4 417.5C503 418.3 504.2 414.6 504.5 414" fill="none" stroke="#6a6a6a" stroke-width="0.7"/>
<path d="M258.4 426.7C258.9 425.5 260.4 421.6 261.4 419.1C262.5 416.6 263.1 413.7 264.5 411.5C266 409.2 268.2 407.5 270.2 405.7C272.2 403.9 274.3 402.1 276.6 400.7C278.9 399.4 281.5 398.5 284.1 397.6C286.6 396.8 289.2 396.2 291.9 395.7C294.5 395.1 297.2 394.9 299.8 394.4C302.5 393.9 305.1 393.4 307.8 392.9C310.4 392.5 313.1 391.9 315.8 391.6C318.5 391.2 321.3 390.9 324 390.7C326.7 390.4 329.4 390.2 332.2 390C334.9 389.8 337.6 389.7 340.4 389.5C343.1 389.3 345.8 389.1 348.6 389C351.3 388.8 354 388.6 356.8 388.5C359.5 388.3 362.2 388.1 365 387.9C367.7 387.7 370.5 387.5 373.2 387.4C375.9 387.2 378.7 387 381.4 386.8C384.1 386.6 386.9 386.3 389.6 386.1C392.3 385.8 395.1 385.6 397.8 385.3C400.5 385.1 403.3 384.8 406 384.5C408.7 384.3 411.4 383.9 414.2 383.7C416.9 383.5 419.6 383.5 422.4 383.4C425.1 383.3 427.9 383.2 430.6 383.2C433.3 383.1 436.1 383 438.8 383C441.6 383 444.3 383.1 447 383.3C449.8 383.5 452.5 383.9 455.2 384.2C457.9 384.5 460.7 384.8 463.4 385.2C466 385.7 468.7 386.3 471.3 387C473.9 387.6 476.5 388.3 479 389.1C481.6 390 484.1 390.8 486.5 392C488.8 393.2 491.2 394.7 493.2 396.5C495.2 398.2 497 400.4 498.4 402.6C499.8 404.9 500.7 407.4 501.4 410C502 412.6 501.9 417.5 502.4 418.2C502.9 418.9 504.1 414.7 504.5 414" fill="none" stroke="#2a2a2a" stroke-width="0.9"/>
<path d="M258.5 421C258.7 419.1 258.8 413.6 259.5 409.4C260.2 405.2 261.8 399.9 263 396C264.2 392.1 265.8 389 267 386C268.2 383 268.5 381.2 270.1 378.1C271.7 375 274.3 370.5 276.4 367.1C278.5 363.7 280.9 360.8 282.7 357.7C284.5 354.6 285.6 350.8 287.4 348.3C289.2 345.8 291 344.2 293.6 342.8C296.2 341.4 300.2 340.1 303.1 339.6C306 339.2 308.3 339.6 310.9 340.1C313.5 340.6 316.1 342.1 318.7 342.8C321.3 343.5 323.7 343.9 326.6 344.3C329.5 344.7 332.1 344.6 336 345.1C339.9 345.6 344.9 346.8 350 347.5C355.1 348.2 361.1 349 366.3 349.4C371.5 349.8 374.4 350.6 381 350C387.6 349.4 397.5 347.5 405.7 345.8C413.9 344.1 422.2 341.5 430.4 339.6C438.6 337.8 447.7 335.7 455.1 334.7C462.5 333.7 469.9 333.3 474.8 333.5C479.7 333.7 481.8 333.9 484.7 336C487.6 338.1 490.1 341.7 492.1 345.8C494.2 349.9 495.4 354.8 497 360.6C498.6 366.4 501 374.6 502 380.4C503 386.2 502.8 389.6 503.2 395.2C503.6 400.8 504.3 410.9 504.5 414" fill="none" stroke="#707070" stroke-width="1"/>
<ellipse cx="360" cy="372" rx="70" ry="22" fill="url(#stg2)"/>
<path d="M264.7 408.8C265.6 407.9 268.4 404.9 270.4 403.2C272.5 401.5 274.6 399.7 276.9 398.5C279.3 397.2 282 396.4 284.5 395.7C287.1 394.9 289.8 394.5 292.5 394C295.1 393.6 297.8 393.5 300.5 393.1C303.2 392.8 305.9 392.4 308.6 392C311.3 391.6 313.9 391.1 316.6 390.8C319.3 390.4 322 390.2 324.7 389.9C327.4 389.6 330.1 389.3 332.8 389.1C335.5 388.8 338.2 388.6 340.9 388.4C343.6 388.2 346.3 388 349 387.8C351.7 387.6 354.4 387.4 357.1 387.2C359.8 387 362.5 386.8 365.2 386.6C367.9 386.4 370.6 386.2 373.3 386C376 385.7 378.7 385.5 381.4 385.3C384.1 385.1 386.8 384.9 389.5 384.7C392.2 384.5 394.9 384.2 397.6 384C400.3 383.7 403 383.5 405.7 383.2C408.4 383 411.1 382.7 413.8 382.5C416.5 382.4 419.2 382.3 421.9 382.3C424.6 382.2 427.3 382.2 430 382.2C432.7 382.1 435.5 382 438.2 382.1C440.9 382.1 443.6 382.2 446.3 382.4C449 382.7 451.6 383.1 454.3 383.4C457 383.7 459.7 384 462.4 384.4C465.1 384.8 467.7 385.3 470.4 385.8C473 386.4 475.7 386.9 478.3 387.7C480.9 388.4 483.5 389.1 485.9 390.2C488.4 391.3 490.8 392.7 492.9 394.4C494.9 396.1 496.8 398.2 498.2 400.4C499.6 402.6 500.8 406.4 501.3 407.6" fill="none" stroke="#3c4652" stroke-width="3.5" opacity="0.85"/>
<path d="M259.2 445.5C258.9 443.5 258.5 439.8 258.6 436.8C258.7 433.9 258.9 432.3 260 428C261.1 423.7 262.5 415.5 265 411.2C267.5 407 271.1 404.7 274.8 402.5C278.5 400.2 282.7 398.9 287.4 397.8C292.1 396.7 297.9 396.7 303.1 396C308.3 395.3 313.2 394.3 318.7 393.7C324.2 393 329.1 392.5 336 392C342.9 391.4 351 390.9 360 390.2C369 389.5 380.7 388.6 390 387.9C399.3 387.1 407.2 386 416 385.5C424.8 385.1 434.5 384.8 442.8 385.2C451.1 385.6 459.1 386.9 466 388C472.9 389.2 479.1 390.4 483.9 392.2C488.7 393.9 491.8 396.2 494.6 398.6C497.4 401.1 499.5 403.5 500.8 407.1C502.1 410.7 502.1 415.8 502.5 420.4C502.9 424.9 503.2 430.4 503.2 434.3C503.2 438.2 503.2 441.1 502.4 443.5C501.6 446 499.4 447.3 498.2 449.2C497 451 496.4 453.1 495.3 454.8C494.2 456.5 492.9 457.6 491.6 459.4C490.3 461.1 489.9 463 487.4 465.4C484.9 467.8 480.9 471.1 476.7 473.8C472.5 476.5 467.8 479.2 462.4 481.6C457 484 450.6 486.5 444.6 488.4C438.7 490.3 431.5 492 426.7 493C421.9 493.9 421.1 493.7 416 494C410.9 494.3 402.7 494.5 396 494.6C389.3 494.7 382.7 494.7 376 494.5C369.3 494.3 362.7 493.8 356 493.1C349.3 492.5 341.7 491.6 336 490.7C330.3 489.7 326.3 488.7 321.9 487.4C317.4 486.1 313.2 484.5 309.3 483C305.4 481.4 302 479.5 298.4 478.1C294.8 476.6 291.1 476 287.4 474.3C283.7 472.7 279.4 470 276.4 468C273.3 466 270.6 463.7 269.1 462.1C267.6 460.5 268.3 459.4 267.6 458.3C266.9 457.2 265.3 456.4 264.7 455.4C264.1 454.5 264.7 453.5 264 452.4C263.3 451.3 261.2 450.1 260.4 448.9C259.6 447.8 259.5 447.5 259.2 445.5Z" fill="#86908e"/>
<path d="M260.4 445.6C260.1 443.6 259.7 439.9 259.8 437.1C260 434.3 260.2 432.9 261.2 428.8C262.3 424.7 263.7 416.8 266.2 412.6C268.6 408.4 272.2 405.9 275.9 403.6C279.6 401.4 283.7 400.2 288.3 399.1C293 398 298.7 397.9 303.9 397.2C309 396.5 313.9 395.6 319.3 394.9C324.8 394.3 329.6 393.9 336.4 393.3C343.3 392.8 351.3 392.2 360.2 391.5C369.1 390.9 380.7 390 389.9 389.2C399.2 388.4 406.9 387.3 415.6 386.9C424.4 386.5 433.9 386.1 442.2 386.6C450.4 387 458.4 388.3 465.1 389.4C471.9 390.6 478.2 391.8 482.9 393.5C487.6 395.2 490.7 397.4 493.5 399.8C496.3 402.3 498.3 404.5 499.6 408.1C500.9 411.7 500.9 416.8 501.3 421.2C501.7 425.6 502 430.9 502 434.6C502 438.3 502 441.2 501.2 443.6C500.4 446.1 498.2 447.3 497 449.2C495.9 451 495.2 453.1 494.2 454.8C493.1 456.5 491.8 457.6 490.5 459.3C489.2 461 488.8 462.7 486.3 465C483.9 467.4 479.9 470.6 475.7 473.3C471.6 475.9 466.9 478.5 461.6 480.9C456.3 483.3 449.9 485.7 444 487.5C438.1 489.4 431 491.1 426.2 492C421.5 492.9 420.7 492.8 415.6 493C410.6 493.3 402.5 493.5 395.9 493.6C389.2 493.7 382.7 493.8 376.1 493.5C369.4 493.3 362.9 492.8 356.2 492.2C349.6 491.6 342.1 490.7 336.4 489.8C330.8 488.8 326.9 487.8 322.5 486.6C318.1 485.3 313.9 483.8 310 482.2C306.1 480.7 302.8 478.9 299.2 477.5C295.6 476 292 475.4 288.3 473.8C284.7 472.1 280.5 469.6 277.4 467.6C274.4 465.6 271.7 463.3 270.2 461.8C268.8 460.2 269.5 459.4 268.7 458.3C268 457.2 266.5 456.4 265.9 455.4C265.3 454.5 265.9 453.5 265.2 452.4C264.5 451.3 262.4 450.1 261.6 448.9C260.8 447.8 260.7 447.5 260.4 445.6Z" fill="#f20303"/>
<path d="M272 445.8C271.7 444.7 271.4 439.8 271.5 436.9C271.6 434 272 432.1 272.5 428.3C273 424.5 273.6 417.2 274.7 413.9C275.8 410.7 277.2 410.3 279 408.9C280.8 407.5 283.4 406.5 285.7 405.6C288 404.7 290.4 404 293 403.5C295.6 402.9 298.7 402.6 301.4 402.1C304.1 401.7 306.4 401 309 400.6C311.6 400.2 313.1 400 317 399.6C320.9 399.3 327.2 398.8 332.7 398.4C338.2 398.1 342.1 397.8 350 397.5C357.9 397.1 371.3 397.2 380 396.4C388.7 395.5 396 393.2 402 392.2C408 391.2 409.2 390.6 416 390.2C422.8 389.7 434.5 389 442.8 389.5C451.1 390.1 459.5 391.8 466 393.4C472.5 395.1 478.1 396.8 482 399.3C485.9 401.8 487.1 405.4 489.2 408.5C491.3 411.7 493.5 414.2 494.5 418.2C495.5 422.3 495.5 428.6 495.3 432.8C495.1 437 494.1 440.7 493.1 443.5C492.1 446.4 490.8 447.7 489.5 449.8C488.2 451.9 486.8 454.4 485.1 456.2C483.4 458 481.5 458.9 479.3 460.5C477.1 462 474.4 464 472 465.5C469.6 467 468 468.3 464.7 469.5C461.4 470.7 455.9 471.6 452 472.6C448.1 473.7 443.3 474.6 441 475.8C438.7 477.1 439.8 478.6 438.3 480.2C436.8 481.9 435.7 484.2 432 485.6C428.3 487.1 421.3 488.5 416 488.9C410.7 489.3 406.7 488.3 400 488.1C393.3 487.9 384.3 487.8 376 487.6C367.7 487.3 356.7 487 350 486.5C343.3 486 340.2 485.3 336 484.7C331.8 484.1 328.2 483.8 325 483.1C321.8 482.4 318.2 482 316.5 480.3C314.8 478.5 315.2 474.9 314.8 472.7C314.4 470.5 316.7 468.5 314.2 467C311.7 465.5 303.5 464.7 299.6 463.7C295.7 462.6 293.6 461.7 290.9 460.4C288.2 459.1 285.8 457.6 283.6 455.9C281.4 454.1 279.5 452.1 277.8 450.1C276.1 448 274.5 444.3 273.5 443.5C272.5 442.8 272.3 446.9 272 445.8Z" fill="#0a2cf8"/>
<path d="M282.9 443.5C282.2 440.9 282.3 436.4 282.5 433.2C282.7 430 283.2 426.5 284 424.3C284.8 422.1 285.7 421.1 287 419.9C288.3 418.8 290.3 418.2 292 417.3C293.7 416.5 295.4 415.4 297 414.6C298.6 413.7 299.4 413.4 301.4 412.2C303.4 411 306.8 409 309.2 407.4C311.6 405.8 313.4 403.3 315.5 402.4C317.6 401.5 318.9 402 322 401.9C325.1 401.7 329.7 401.6 334.4 401.6C339.1 401.5 343.7 401.8 350 401.7C356.3 401.6 366.8 402 372 401.2C377.2 400.4 378 398.2 381 397.1C384 396.1 386.5 395.6 390 395C393.5 394.5 397.7 394.1 402 393.9C406.3 393.8 407.7 393.9 416 394.1C424.3 394.3 443.7 394.1 451.7 394.9C459.7 395.8 460.3 397.2 464.2 399.1C468.1 401 471.9 403.1 474.9 406.4C477.9 409.8 481.1 414.9 482.2 419.3C483.3 423.7 482 428.8 481.5 432.8C481 436.9 480.3 440.6 479.3 443.5C478.3 446.5 476.7 448.3 475.6 450.6C474.5 453 473.8 455.6 472.7 457.7C471.6 459.8 471.4 461.6 469.1 463.3C466.8 465 462.8 466.6 458.9 467.7C455 468.8 449.6 469.5 446 469.8C442.4 470.1 440.2 469.9 437 469.4C433.8 469 430.2 468 427 467.3C423.8 466.5 422.5 465.3 418 465C413.5 464.6 406.7 465 400 465.1C393.3 465.1 385.3 465.4 378 465.3C370.7 465.3 362.7 465.3 356 464.9C349.3 464.5 342.3 463.4 338 463.2C333.7 462.9 332.8 463.1 330 463.2C327.2 463.3 323.4 463.6 321 463.9C318.6 464.1 317.7 464.7 315.6 464.5C313.5 464.3 311.1 463.4 308.4 462.6C305.7 461.8 302.3 460.8 299.6 459.5C296.9 458.2 294.6 456.3 292.4 454.6C290.2 452.9 288.1 451.1 286.5 449.2C284.9 447.4 283.6 446.2 282.9 443.5Z" fill="#fdfc00"/>
<path d="M348.3 413.6L351.5 412.5 M356.3 407.1L359 406.1 M367.6 457.3L369.4 457 M464.1 441.6L466.5 442.5 M447.9 422.4L449.7 421.8 M439.4 413.3L442.6 413.7 M390.5 405.8L392.1 405.3 M367.5 424.3L370.7 424.2 M435.8 448.9L438.1 449 M450.9 449.9L452.9 450.4 M366.4 453L368.3 453 M412.1 452.8L415.1 453.5 M417 443.2L420.2 443.1 M463.2 435.7L466.3 434.6 M440.7 421.5L443.4 421.9 M374.6 414.3L376.3 413.7 M312.7 419.1L315.2 419.9 M371.1 439.7L375.1 440.7 M340.3 430.9L342.7 431.6 M316.9 414.7L319 414.3 M398.2 420.2L399.7 420.1 M393 464.5L396.6 464.4 M413.1 403L417.1 404 M436.4 430.1L438.9 429.3 M327.5 414.1L329.8 413.3 M316.8 409.7L319.1 408.8 M402.5 411.3L404.7 410.8 M310.5 456.3L315 456.5 M351.5 421.4L355.3 420.3 M465 438.8L466.9 438.8 M448.6 448.6L450.8 448.4 M430.9 439.3L434.7 438.8 M438.2 463.6L442.1 463.9 M425.4 417.3L428.4 416.9 M294.1 420.4L296.3 421.1 M370.7 463L374.7 464.3 M329.8 418.4L331.8 418 M455.1 455.4L458 455.5 M303.7 446.2L307.7 446.9 M376.5 415L380.3 414.5 M468.5 429.5L471 430.4 M320.6 410.8L322.3 411.4 M314.8 455.1L319.2 455.8 M390.8 410.3L392.2 410.8 M386.1 463.2L388.7 463.8 M327.9 420.1L330.2 419.7 M337.1 431.2L338.9 431.8 M372.7 442.6L376.9 442.4 M381.4 439.6L384.2 438.5 M322 403L325.7 402.2 M422.9 440.7L425.4 440.7 M433.6 408L436.6 407.3 M431.3 437.1L434.4 437.7 M370.5 444.2L373.5 444.3 M372.4 438.7L375 439.6 M451 460.7L453.3 460.5 M444.5 410.1L446.3 410 M332.8 407.3L336.2 408.1 M316.9 450L320.2 449.4 M466.8 416L471.2 415 M472.1 453.9L474.1 453.7 M351.5 415.9L353.9 416.3 M391.7 433L393.3 432.8 M382.6 406L386.9 406.6 M308.6 420.5L310.2 420.9 M312 431.2L316 432.2 M316.1 459.9L319.2 460.5 M299.4 448.1L301.9 447.6 M406.6 455.3L408.2 455.6 M448.4 433.8L450.9 433.9 M338.1 411.9L341 411.4 M318.8 405.8L320.9 405.6 M429.1 422.5L431.9 421.7 M292.6 417.8L294.1 418.4 M323.1 435.8L327 434.6 M368 436.7L371.9 436.4 M351.6 457L355.2 457.4 M353.4 406.7L355.2 406.1 M336.5 413.7L338.1 414.2 M413 421.7L415.1 421.3 M318.1 432.9L320.2 433.7 M389 419.4L393.4 418.6 M288.7 428.9L291.7 428.9 M382.3 402.7L384.4 401.7 M344.7 418.7L347.9 418.7 M409.6 450.5L413.7 450.1 M470.4 409.5L474 409.5 M442.9 458.8L446.2 459 M314.3 438.1L317.2 438.9 M440.8 442.2L444.9 442.8 M331.6 404.8L333.5 404.7 M442.9 440.7L446.3 441 M378.6 402.1L382.4 402.6 M388.2 446.9L389.8 447.2 M302 421.1L305.5 420.3 M469.2 436.5L471.8 436.5 M430.3 444.9L433.5 444 M335.8 451.6L338.2 451.7 M299.5 420.4L302.9 421.2 M342.4 438L345.3 438 M453.3 414.1L457.3 415.8 M372.7 456.9L377.1 456.7 M327.8 462.2L329.9 462.5 M386.1 464.4L387.9 464.7 M453.1 448.6L455.1 449 M379.8 433.9L382.1 433.3 M347.7 457.4L349.2 457.7 M310.5 459.6L313.9 460.6 M356.6 429.6L361.1 429.9 M368.4 421.8L369.9 421.3" stroke="#8a8a7a" stroke-width="1.3" stroke-linecap="round" fill="none" opacity="0.9"/>
<path d="M340.5 461.8C341.4 460.3 341.6 456 342.5 453.8C343.4 451.6 344.6 450 345.9 448.5C347.1 447.1 348.6 445.8 350 444.8C351.4 443.8 352.2 443.3 354 442.8C355.8 442.3 359 441.9 360.7 442C362.4 442.2 361.1 443.6 364 443.8C366.9 444.1 373.2 443.5 378 443.5C382.8 443.5 390 444.1 393 443.8C396 443.6 394.5 442.3 396 442C397.5 441.8 400.2 442 402 442.3C403.8 442.7 405.5 443.4 407 444.2C408.5 444.9 409.8 445.9 411 447.1C412.2 448.3 413.1 449.5 414 451.3C414.9 453.1 415.8 455.7 416.5 457.7C417.2 459.7 416.8 461.6 418.5 463.2C420.2 464.8 423.9 466.2 427 467.3C430.1 468.3 433.8 469 437 469.4C440.2 469.9 445.3 469 446 470.1C446.7 471.2 442.3 474.1 441 475.8C439.7 477.5 439.8 478.6 438.3 480.2C436.8 481.9 435.7 484.2 432 485.6C428.3 487.1 421.3 488.5 416 488.9C410.7 489.3 406.7 488.3 400 488.1C393.3 487.9 384.3 487.8 376 487.6C367.7 487.3 356.7 487 350 486.5C343.3 486 340.2 485.3 336 484.7C331.8 484.1 328.2 483.8 325 483.1C321.8 482.4 318.2 482 316.5 480.3C314.8 478.5 315.1 474.9 314.8 472.7C314.5 470.5 313.5 468.4 314.5 467.2C315.5 465.9 318.4 465.5 321 464.9C323.6 464.4 327.3 464.1 330 463.8C332.7 463.5 335.2 463.4 337 463.1C338.8 462.8 339.6 463.4 340.5 461.8Z" fill="#0a2cf8"/>
<path d="M285.1 431.8C283.7 433.8 283.9 435.9 284.4 438.2C284.9 440.6 286.2 443.7 288 445.8C289.8 448 292.6 449.6 295.3 451.1C298 452.6 301.6 454.3 304 454.7C306.4 455.1 308.4 454.4 309.8 453.4C311.2 452.4 312 450.2 312.7 448.6C313.4 447 313.3 445.1 314.2 443.5C315.1 442 316 440.6 318 439.1C320 437.7 323.5 435.9 326 434.7C328.5 433.4 331.8 433 333 431.7C334.2 430.5 333.8 428.7 333.5 427.2C333.2 425.6 333.6 423.4 331 422.5C328.4 421.6 323.2 421.3 318 421.6C312.8 422 304.2 424 300 424.7C295.8 425.4 295.2 424.7 292.7 425.9C290.2 427.1 286.5 429.7 285.1 431.8Z" fill="#989898"/>
<path d="M307.8 442.2C308.2 443.5 308.4 444.9 308.2 446C308 447.1 307.5 448.1 306.8 448.9C306 449.6 304.9 450.3 303.8 450.6C302.6 451 301.2 451 299.9 450.9C298.5 450.7 297 450.3 295.8 449.7C294.5 449.2 293.3 448.3 292.3 447.5C291.4 446.6 290.6 445.8 290.2 444.6C289.8 443.4 289.6 441.8 289.8 440.4C290 439.1 290.5 437.6 291.2 436.5C292 435.4 293.1 434.5 294.2 434C295.4 433.5 296.8 433.2 298.1 433.4C299.5 433.5 301 434 302.2 434.8C303.5 435.5 304.7 436.7 305.7 437.9C306.6 439.2 307.4 440.9 307.8 442.2Z" fill="#ababab"/>
<path d="M313 403.5C315.3 402.1 314.4 401.5 318.2 401C322 400.6 331.8 400.3 336 400.8C340.2 401.3 342.4 402.4 343.7 404C345 405.7 345.2 409.5 343.7 410.7C342.2 412 336.5 410.2 334.8 411.6C333.1 413 333.7 416.7 333.5 419.3C333.3 421.9 333.9 424.9 333.5 427.2C333.1 429.5 334.9 431.9 331 433.2C327.1 434.4 316.5 434.7 310 434.7C303.5 434.7 295.3 434.4 292 433.2C288.7 432 290.2 429.9 290 427.7C289.8 425.5 289.8 422.3 291 420C292.2 417.7 294.8 415.5 297 413.8C299.2 412 301.8 411.3 304.5 409.6C307.2 407.9 310.7 404.9 313 403.5Z" fill="#9a9a9a"/>
<path d="M318.8 411.3C318.8 411.9 318.6 412.6 318.2 413.2C317.9 413.8 317.3 414.3 316.7 414.7C316 415.1 315.2 415.4 314.4 415.5C313.6 415.7 312.6 415.6 311.8 415.5C311 415.3 310.2 415 309.5 414.6C308.9 414.2 308.3 413.6 308 413C307.6 412.4 307.4 411.7 307.4 411C307.4 410.4 307.6 409.6 308 409.1C308.3 408.5 308.9 407.9 309.5 407.5C310.2 407.1 311 406.8 311.8 406.7C312.6 406.6 313.6 406.6 314.4 406.8C315.2 407 316 407.3 316.7 407.7C317.3 408.1 317.9 408.7 318.2 409.3C318.6 409.9 318.8 410.6 318.8 411.3Z" fill="#4a4a4a"/>
<path d="M309.3 420.1C309.3 420.9 309 421.8 308.6 422.5C308.2 423.2 307.5 423.9 306.7 424.4C305.9 424.9 304.8 425.3 303.9 425.5C302.9 425.7 301.7 425.7 300.7 425.5C299.8 425.2 298.7 424.7 297.9 424.1C297.1 423.5 296.4 422.6 296 421.8C295.6 420.9 295.3 419.9 295.3 419C295.3 418.1 295.6 417.1 296 416.4C296.4 415.8 297.1 415.2 297.9 414.9C298.7 414.6 299.8 414.5 300.7 414.5C301.7 414.4 302.9 414.4 303.9 414.6C304.8 414.8 305.9 415.2 306.7 415.7C307.5 416.2 308.2 416.9 308.6 417.7C309 418.4 309.3 419.3 309.3 420.1Z" fill="#4a4a4a"/>
<path d="M332.3 424.2C332.3 424.9 331.9 425.7 331.2 426.3C330.4 427 329.3 427.6 328 428.1C326.7 428.5 325 428.8 323.4 429C321.7 429.1 319.9 429.1 318.2 429C316.6 428.8 314.9 428.5 313.6 428.1C312.3 427.6 311.2 427 310.4 426.3C309.7 425.7 309.3 424.8 309.3 424.1C309.3 423.4 309.7 422.6 310.4 422C311.2 421.3 312.3 420.7 313.6 420.3C314.9 419.8 316.6 419.5 318.2 419.3C319.9 419.2 321.7 419.2 323.4 419.4C325 419.6 326.7 419.9 328 420.4C329.3 420.8 330.4 421.4 331.2 422.1C331.9 422.7 332.3 423.5 332.3 424.2Z" fill="#4a4a4a"/>
<path d="M328.4 404.6C328.4 405 328.2 405.6 328 406C327.7 406.4 327.2 406.8 326.7 407.1C326.2 407.4 325.5 407.6 324.9 407.7C324.3 407.8 323.5 407.7 322.9 407.6C322.3 407.5 321.6 407.2 321.1 406.9C320.6 406.6 320.1 406.2 319.8 405.7C319.6 405.3 319.4 404.7 319.4 404.3C319.4 403.8 319.6 403.2 319.8 402.8C320.1 402.4 320.6 402 321.1 401.7C321.6 401.4 322.3 401.2 322.9 401.1C323.5 401 324.3 401.1 324.9 401.2C325.5 401.3 326.2 401.6 326.7 401.9C327.2 402.2 327.7 402.7 328 403.1C328.2 403.5 328.4 404.1 328.4 404.6Z" fill="#4a4a4a"/>
<path d="M334.8 403.3C334.8 403.7 334.7 404.1 334.4 404.5C334.2 404.8 333.8 405.2 333.4 405.4C332.9 405.6 332.4 405.8 331.8 405.9C331.3 406 330.7 406 330.2 405.8C329.6 405.7 329.1 405.5 328.6 405.3C328.2 405 327.8 404.6 327.6 404.3C327.3 403.9 327.2 403.4 327.2 403C327.2 402.6 327.3 402.2 327.6 401.9C327.8 401.5 328.2 401.2 328.6 400.9C329.1 400.7 329.6 400.5 330.2 400.5C330.7 400.4 331.3 400.4 331.8 400.5C332.4 400.6 332.9 400.9 333.4 401.1C333.8 401.4 334.2 401.7 334.4 402.1C334.7 402.5 334.8 402.9 334.8 403.3Z" fill="#4a4a4a"/>
<path d="M343.6 407.3C343.6 407.8 343.4 408.4 343.1 408.9C342.8 409.3 342.3 409.8 341.7 410.1C341.2 410.4 340.4 410.6 339.7 410.7C339 410.8 338.2 410.8 337.5 410.7C336.8 410.6 336 410.3 335.5 410C334.9 409.6 334.4 409.2 334.1 408.7C333.8 408.2 333.6 407.7 333.6 407.2C333.6 406.7 333.8 406.1 334.1 405.7C334.4 405.2 334.9 404.8 335.5 404.5C336 404.2 336.8 404 337.5 403.9C338.2 403.8 339 403.8 339.7 404C340.4 404.1 341.2 404.3 341.7 404.7C342.3 405 342.8 405.4 343.1 405.8C343.4 406.3 343.6 406.8 343.6 407.3Z" fill="#4a4a4a"/>
<path d="M313 422.4C313 422.9 312.9 423.4 312.6 423.8C312.4 424.2 311.9 424.6 311.5 424.9C311 425.1 310.5 425.4 309.9 425.5C309.3 425.6 308.7 425.6 308.1 425.5C307.5 425.4 307 425.1 306.5 424.9C306.1 424.6 305.6 424.2 305.4 423.7C305.1 423.3 305 422.8 305 422.4C305 421.9 305.1 421.4 305.4 421C305.6 420.6 306.1 420.2 306.5 419.9C307 419.6 307.5 419.4 308.1 419.3C308.7 419.2 309.3 419.2 309.9 419.3C310.5 419.4 311 419.6 311.5 419.9C311.9 420.2 312.4 420.6 312.6 421C312.9 421.4 313 421.9 313 422.4Z" fill="#4a4a4a"/>
<path d="M342.2 451.6C341.7 452.7 340.9 453.8 339.9 454.7C339 455.5 337.6 456.3 336.4 456.7C335.1 457.2 333.5 457.4 332.2 457.4C330.8 457.4 329.4 457 328.2 456.5C327.1 456.1 326 455.3 325.3 454.4C324.6 453.6 324.1 452.5 323.9 451.5C323.8 450.5 324 449.3 324.4 448.3C324.9 447.2 325.7 446.2 326.7 445.3C327.6 444.4 329 443.6 330.2 443.1C331.5 442.6 333.1 442.2 334.4 442.2C335.8 442.1 337.2 442.4 338.4 442.9C339.5 443.4 340.6 444.2 341.3 445C342 445.9 342.5 447 342.7 448.1C342.8 449.2 342.6 450.5 342.2 451.6Z" fill="#8a8a8a"/>
<path d="M340.5 451.3C340.2 452.2 339.5 453.1 338.6 453.9C337.8 454.6 336.8 455.3 335.7 455.7C334.6 456.1 333.4 456.3 332.3 456.3C331.2 456.3 330 456 329 455.6C328.1 455.2 327.2 454.5 326.7 453.8C326.1 453.1 325.7 452.2 325.6 451.3C325.5 450.5 325.7 449.4 326.1 448.6C326.4 447.7 327.1 446.7 328 446C328.8 445.3 329.8 444.6 330.9 444.2C332 443.8 333.2 443.4 334.3 443.4C335.4 443.4 336.6 443.6 337.6 444C338.5 444.4 339.4 445 339.9 445.7C340.5 446.5 340.9 447.4 341 448.3C341.1 449.3 340.9 450.3 340.5 451.3Z" fill="#b0b0b0"/>
<path d="M395.7 428C395.7 428.9 395.4 429.9 395 430.7C394.5 431.5 393.8 432.3 393 432.9C392.2 433.4 391.1 433.9 390.1 434.1C389.1 434.3 387.9 434.3 386.9 434.1C385.9 433.9 384.8 433.4 384 432.9C383.2 432.3 382.5 431.5 382 430.7C381.6 429.9 381.3 428.9 381.3 428C381.3 427.1 381.6 425.9 382 425C382.5 424.2 383.2 423.3 384 422.7C384.8 422.1 385.9 421.6 386.9 421.4C387.9 421.1 389.1 421.1 390.1 421.3C391.1 421.5 392.2 422 393 422.6C393.8 423.2 394.5 424.1 395 425C395.4 425.9 395.7 427.1 395.7 428Z" fill="#8c8c8c"/>
<path d="M394.4 427.6C394.4 428.4 394.2 429.2 393.8 429.8C393.5 430.5 392.9 431.1 392.3 431.6C391.7 432 390.8 432.4 390 432.5C389.3 432.7 388.3 432.7 387.6 432.5C386.8 432.4 385.9 432 385.3 431.6C384.7 431.1 384.1 430.5 383.8 429.8C383.4 429.2 383.2 428.4 383.2 427.6C383.2 426.8 383.4 425.9 383.8 425.2C384.1 424.5 384.7 423.8 385.3 423.3C385.9 422.8 386.8 422.4 387.6 422.2C388.3 422 389.3 422 390 422.2C390.8 422.3 391.7 422.7 392.3 423.2C392.9 423.7 393.5 424.4 393.8 425.2C394.2 425.9 394.4 426.8 394.4 427.6Z" fill="#b8b8b8"/>
<path d="M363 433.2C363.8 432.2 365.8 431.3 368 431C370.2 430.6 374.2 430.5 376 431C377.8 431.5 378.8 432.8 379 433.9C379.2 435.1 378.7 436.9 377 437.6C375.3 438.4 371.3 438.5 369 438.4C366.7 438.3 364 437.8 363 436.9C362 436 362.2 434.2 363 433.2Z" fill="#8f8f8f"/>
<path d="M396 396.9C398.3 395.3 404.3 395 410 394.6C415.7 394.3 424.7 394.6 430 394.9C435.3 395.1 439.7 395.3 442 396.2C444.3 397.1 444.3 398.7 444 400.1C443.7 401.5 443.2 403.7 440 404.5C436.8 405.3 430.8 404.9 425 404.9C419.2 405 409.8 405 405 404.9C400.2 404.8 397.5 405.8 396 404.5C394.5 403.2 393.7 398.6 396 396.9Z" fill="#909090"/>
<path d="M399 397.8C401.3 396.9 407.7 396.3 412 396.1C416.3 395.9 421.3 396.4 425 396.6C428.7 396.8 432.7 396.7 434 397.5C435.3 398.3 435.3 400.6 433 401.4C430.7 402.2 424.7 402.2 420 402.3C415.3 402.4 408.7 402.4 405 402.3C401.3 402.2 399 402.5 398 401.8C397 401 396.7 398.7 399 397.8Z" fill="#4a4a4a"/>
<path d="M416 394.4C420 393.1 434 394.8 440 394.9C446 395 448 394.3 452 395C456 395.7 460.4 397.2 464.2 399.1C468 401 471.9 403.1 474.9 406.4C477.9 409.8 481.1 414.9 482.2 419.3C483.3 423.7 481.8 429.3 481.5 432.8C481.2 436.3 481.8 438.8 480.7 440.4C479.6 442 476.8 441.9 474.9 442.5C473 443.2 471.3 443.8 469.1 444.4C466.9 445 464.2 445.3 461.8 446C459.4 446.7 458.1 447.9 454.5 448.5C450.9 449.1 444.4 449.8 440 449.7C435.6 449.6 431.3 448.7 428 447.9C424.7 447.1 420.5 446.3 420 444.8C419.5 443.3 421.7 440 425 439.1C428.3 438.2 435.1 440.2 440 439.4C444.9 438.5 451.1 435.4 454.5 433.9C457.9 432.5 458 431.6 460.4 430.7C462.8 429.8 467.2 430.2 469.1 428.4C471 426.7 472.5 423 472 420.2C471.5 417.4 468.8 413.9 466 411.7C463.2 409.5 459.3 408.2 455 407.1C450.7 406.1 445 405.8 440 405.4C435 405 429 405.4 425 404.9C421 404.5 417.5 404.5 416 402.7C414.5 401 412 395.7 416 394.4Z" fill="#8f8f8f"/>
<path d="M417 396.1C418.8 395.4 424 395.6 428 395.7C432 395.9 439 396.3 441 397.1C443 397.8 442.2 399.6 440 400.1C437.8 400.7 431.8 400.6 428 400.5C424.2 400.5 418.8 400.8 417 400.1C415.2 399.4 415.2 396.9 417 396.1Z" fill="#4a4a4a"/>
<path d="M469.9 450.9C469.9 451.3 469.7 451.7 469.4 452.1C469.1 452.4 468.5 452.8 467.9 453.1C467.4 453.4 466.6 453.6 465.9 453.7C465.1 453.9 464.3 453.9 463.5 453.9C462.8 453.9 462 453.7 461.5 453.5C460.9 453.3 460.3 453 460 452.6C459.7 452.3 459.5 451.9 459.5 451.5C459.5 451.1 459.7 450.6 460 450.2C460.3 449.8 460.9 449.5 461.5 449.2C462 448.9 462.8 448.7 463.5 448.6C464.3 448.5 465.1 448.5 465.9 448.5C466.6 448.6 467.4 448.8 467.9 449C468.5 449.2 469.1 449.5 469.4 449.8C469.7 450.2 469.9 450.6 469.9 450.9Z" fill="#8a8a8a"/>
<path d="M466.6 450.9C466.6 451 466.5 451.1 466.4 451.3C466.3 451.4 466.2 451.5 466 451.6C465.8 451.7 465.6 451.7 465.4 451.8C465.1 451.8 464.9 451.8 464.6 451.8C464.4 451.8 464.2 451.7 464 451.7C463.8 451.6 463.7 451.5 463.6 451.4C463.5 451.3 463.4 451.2 463.4 451.1C463.4 450.9 463.5 450.8 463.6 450.7C463.7 450.6 463.8 450.5 464 450.4C464.2 450.3 464.4 450.2 464.6 450.2C464.9 450.2 465.1 450.1 465.4 450.2C465.6 450.2 465.8 450.2 466 450.3C466.2 450.4 466.3 450.4 466.4 450.6C466.5 450.7 466.6 450.8 466.6 450.9Z" fill="#111"/>
<path d="M448.3 442.5C448.3 442.7 448.2 442.9 448.1 443.1C448 443.2 447.8 443.4 447.6 443.5C447.4 443.6 447.2 443.7 446.9 443.7C446.6 443.8 446.4 443.8 446.1 443.7C445.8 443.7 445.6 443.6 445.4 443.5C445.2 443.4 445 443.2 444.9 443.1C444.8 442.9 444.7 442.7 444.7 442.5C444.7 442.4 444.8 442.1 444.9 442C445 441.8 445.2 441.6 445.4 441.5C445.6 441.4 445.8 441.3 446.1 441.2C446.4 441.2 446.6 441.2 446.9 441.2C447.2 441.3 447.4 441.4 447.6 441.5C447.8 441.6 448 441.8 448.1 442C448.2 442.1 448.3 442.4 448.3 442.5Z" fill="#0a0a0a"/>
<path d="M452.7 442.5C452.7 442.7 452.6 442.9 452.5 443.1C452.4 443.2 452.2 443.4 452 443.5C451.8 443.6 451.6 443.7 451.3 443.7C451 443.8 450.8 443.8 450.5 443.7C450.2 443.7 450 443.6 449.8 443.5C449.6 443.4 449.4 443.2 449.3 443.1C449.2 442.9 449.1 442.7 449.1 442.5C449.1 442.4 449.2 442.1 449.3 442C449.4 441.8 449.6 441.6 449.8 441.5C450 441.4 450.2 441.3 450.5 441.2C450.8 441.2 451 441.2 451.3 441.2C451.6 441.3 451.8 441.4 452 441.5C452.2 441.6 452.4 441.8 452.5 442C452.6 442.1 452.7 442.4 452.7 442.5Z" fill="#0a0a0a"/>
<path d="M466.3 432.3C466.3 432.5 466.2 432.7 466.1 432.8C466 433 465.9 433.1 465.7 433.2C465.5 433.3 465.3 433.4 465.1 433.5C464.8 433.5 464.6 433.5 464.3 433.5C464.1 433.4 463.9 433.3 463.7 433.2C463.5 433.1 463.4 433 463.3 432.8C463.2 432.7 463.1 432.5 463.1 432.3C463.1 432.1 463.2 431.9 463.3 431.8C463.4 431.6 463.5 431.5 463.7 431.4C463.9 431.3 464.1 431.2 464.3 431.1C464.6 431.1 464.8 431.1 465.1 431.1C465.3 431.2 465.5 431.3 465.7 431.4C465.9 431.5 466 431.6 466.1 431.8C466.2 431.9 466.3 432.1 466.3 432.3Z" fill="#0a0a0a"/>
<path d="M355.3 420.1C355.3 420.4 355.2 420.6 355.1 420.8C355 421 354.8 421.2 354.5 421.3C354.3 421.5 354 421.6 353.7 421.6C353.5 421.7 353.1 421.7 352.9 421.6C352.6 421.6 352.3 421.5 352.1 421.3C351.8 421.2 351.6 421 351.5 420.8C351.4 420.6 351.3 420.4 351.3 420.2C351.3 419.9 351.4 419.7 351.5 419.5C351.6 419.3 351.8 419.1 352.1 419C352.3 418.8 352.6 418.7 352.9 418.7C353.1 418.6 353.5 418.6 353.7 418.7C354 418.7 354.3 418.8 354.5 418.9C354.8 419.1 355 419.3 355.1 419.5C355.2 419.7 355.3 419.9 355.3 420.1Z" fill="#0a0a0a"/>
<path d="M345 424C346 423.5 349.2 423 352 423.3C354.8 423.5 358.7 424.6 362 425.6C365.3 426.5 371 428 372 428.7C373 429.5 370.7 430.4 368 430.2C365.3 430.1 359.7 428.6 356 428C352.3 427.4 347.8 427 346 426.4C344.2 425.7 344 424.6 345 424Z" fill="#8d8d8d"/>
<path d="M383 413C384.8 412.2 390.5 411.3 395 410.9C399.5 410.5 405.8 410.4 410 410.6C414.2 410.9 418.7 411.7 420 412.4C421.3 413 420.5 414.3 418 414.6C415.5 414.9 409.3 414.1 405 414.1C400.7 414.2 395.5 414.6 392 414.8C388.5 415 385.5 415.6 384 415.3C382.5 415 381.2 413.7 383 413Z" fill="#8d8d8d"/>
<path d="M400 417C401.3 416.2 408.7 415.6 412 415.9C415.3 416.1 419.3 417.6 420 418.5C420.7 419.4 418.7 420.8 416 421.2C413.3 421.5 406.7 421.4 404 420.7C401.3 420 398.7 417.8 400 417Z" fill="#8d8d8d"/>
<path d="M350 439.1C350.8 438.5 354 437.6 356 437.6C358 437.6 361.8 438.5 362 439.1C362.2 439.8 358.8 441 357 441.4C355.2 441.7 352.2 441.7 351 441.4C349.8 441 349.2 439.8 350 439.1Z" fill="#8d8d8d"/>
<path d="M404 435.4C405 434.7 409.7 433.9 412 433.9C414.3 433.9 417.7 434.7 418 435.4C418.3 436.2 416 437.9 414 438.4C412 438.9 407.7 438.9 406 438.4C404.3 437.9 403 436.2 404 435.4Z" fill="#8d8d8d"/>
<path d="M420 424.7C421.3 423.8 428.7 422.8 432 422.9C435.3 423.1 439.3 424.7 440 425.6C440.7 426.4 438.7 427.6 436 428C433.3 428.4 426.7 428.6 424 428C421.3 427.4 418.7 425.5 420 424.7Z" fill="#8d8d8d"/>
<path d="M365 416.3C366 415.8 369.8 415.1 372 415.1C374.2 415.2 378 416 378 416.6C378 417.2 374 418.3 372 418.6C370 418.9 367.2 418.6 366 418.2C364.8 417.9 364 416.8 365 416.3Z" fill="#8d8d8d"/>
<path d="M297 457.1C297 456.8 300.5 456.6 302 456.7C303.5 456.9 306 457.6 306 457.9C306 458.2 303.5 458.6 302 458.5C300.5 458.4 297 457.4 297 457.1Z" fill="#8d8d8d"/>
<path d="M358.5 441.7C359.2 440.7 362.1 440.4 363 441.4C363.9 442.3 363.9 445.1 364 447.5C364.1 449.8 364 453.6 363.5 455.5C363 457.4 361.7 459 361 458.8C360.3 458.6 359.9 456 359.5 454.1C359.1 452.2 359 449.5 358.8 447.5C358.6 445.4 357.8 442.7 358.5 441.7Z" fill="#fdfc00"/>
<path d="M392.5 441.4C393.3 440.4 396.7 440.7 397.5 441.7C398.3 442.8 397.4 445.4 397.2 447.5C397 449.6 396.9 452.4 396.5 454.2C396.1 456 395.6 458 395 458.2C394.4 458.4 393.4 457.3 393 455.6C392.6 453.8 392.7 449.9 392.6 447.5C392.5 445.1 391.7 442.3 392.5 441.4Z" fill="#fdfc00"/>
<path d="M359.2 449.5C359.4 448.5 360.1 448 360.5 448.8C360.9 449.6 361.5 452.6 361.5 454.1C361.5 455.7 360.8 458 360.5 458.1C360.2 458.2 359.7 456.2 359.5 454.8C359.3 453.3 359 450.5 359.2 449.5Z" fill="#f86a14"/>
<path d="M395 448.8C395.3 448.2 396.1 448.5 396.3 449.5C396.5 450.5 396.2 453.5 396 454.9C395.8 456.2 395.1 457.8 394.8 457.5C394.5 457.3 394.3 455 394.3 453.5C394.3 452.1 394.7 449.5 395 448.8Z" fill="#f86a14"/>
<path d="M364 444.8C364.9 443.9 366.1 443.3 368.5 442.8C370.9 442.3 375.2 442 378.5 442C381.8 442 386.1 442.3 388.5 442.8C390.9 443.3 392.1 443.8 393 444.8C393.9 445.8 394 447.3 394.2 448.8C394.4 450.4 394.2 452.7 394 454.2C393.8 455.7 392.9 456.9 393.2 457.9C393.4 458.9 394.5 459.6 395.5 460.4C396.5 461.2 398.6 461.5 399.4 462.8C400.2 464 400.5 465.9 400.4 467.8C400.3 469.6 399.7 472.5 398.6 473.9C397.5 475.3 395.9 475.8 393.7 476.1C391.5 476.3 387.6 476.1 385.4 475.4C383.2 474.6 381.7 471.7 380.5 471.5C379.3 471.4 378.8 472.9 378.2 474.6C377.6 476.4 377.7 480.8 377 482C376.3 483.3 374.9 483.2 374.2 482C373.5 480.8 373.5 476.3 373 474.6C372.5 472.8 372.3 471.4 371.4 471.5C370.4 471.6 369.4 474.6 367.3 475.2C365.2 475.8 361 476 359.1 475.3C357.2 474.5 356.4 472.4 355.8 470.6C355.2 468.8 354.8 466.1 355.4 464.6C355.9 463 358 462.2 359.1 461.2C360.2 460.1 361.6 459.5 362.2 458.1C362.8 456.8 362.7 454.7 362.8 453.1C362.9 451.4 362.8 449.5 363 448.2C363.2 446.8 363.1 445.7 364 444.8Z" fill="#f4f4f4"/>
<path d="M340.6 462.8L350 460.6L361 458.1L362.5 460.5L351 463.4L341.4 464.9Z" fill="#f0f0f0"/>
<path d="M393.5 458.2L405 461L416.2 463.9L415.4 465.7L404 463.7L392.5 460.7Z" fill="#f0f0f0"/>
<path d="M366 445.5C367.2 444.4 369.9 444.2 372 443.9C374.1 443.6 376.5 443.6 378.8 443.6C381.1 443.6 383.9 443.6 386 443.9C388.1 444.2 390.4 444.4 391.5 445.5C392.6 446.5 392.4 448.6 392.3 450.2C392.2 451.8 392.1 454 391 455.2C389.9 456.5 388.1 457.2 386 457.6C383.9 458.1 381 458 378.5 458C376 458 373.1 458 371 457.6C368.9 457.1 367 456.4 366 455.2C365 454 365 451.8 365 450.2C365 448.5 364.8 446.5 366 445.5Z" fill="#d4d4d4"/>
<path d="M369 446.8C370.8 445.9 375.6 445.5 378.8 445.5C382.1 445.5 386.7 445.9 388.5 446.8C390.3 447.7 389.8 449.5 389.5 450.9C389.2 452.2 388.8 454.1 387 454.9C385.2 455.8 381.6 455.9 378.8 455.9C376.1 455.9 372.3 455.7 370.5 454.9C368.7 454 368.2 452.2 368 450.9C367.8 449.5 367.2 447.7 369 446.8Z" fill="#bdbdbd"/>
<path d="M369.8 457.7C370.3 457.1 372.7 456.9 374 457.1C375.3 457.2 376.5 458.5 377.7 458.5C378.9 458.5 380.1 457.2 381.4 457.1C382.7 457 384.9 457.2 385.4 457.8C385.9 458.4 385.5 459.9 384.6 460.7C383.7 461.6 381.1 462.4 380 463C378.9 463.5 378.5 464.1 377.7 464.1C376.9 464.1 376.5 463.5 375.4 463C374.2 462.4 371.7 461.5 370.8 460.7C369.9 459.8 369.3 458.3 369.8 457.7Z" fill="#707070"/>
<path d="M371.6 464.7L373 464.7L373.2 474L371.8 473.9Z" fill="#8c8c8c"/>
<path d="M378.4 464.7L379.8 464.7L379.6 474L378.2 474Z" fill="#8c8c8c"/>
<path d="M358 465C358 464.5 360.7 463.8 362 463.9C363.3 463.9 366 465 366 465.5C366 466 363.3 467 362 466.9C360.7 466.8 358 465.5 358 465Z" fill="#d9d9d9"/>
<path d="M386 465.6C386.2 465.1 389.5 464.3 391 464.3C392.5 464.4 395.2 465.3 395 465.8C394.8 466.3 391.5 467.5 390 467.4C388.5 467.4 385.8 466.1 386 465.6Z" fill="#d9d9d9"/>
<path d="M330 480.9L331.6 481.4 M394.4 485.8L396 485.2 M326 480.3L327.7 479.8 M392.1 484.9L395.2 484.7 M400.4 483.5L402.4 483.2 M409.2 467.6L412.8 467.1 M416.5 480.2L418.3 480.6 M324.9 464.8L328.7 465.8 M345.8 464.9L347.3 465.4 M405.4 466.2L408.1 465.3 M340.6 465.5L344.2 466.5 M421.2 468L422.7 468.5 M346.9 469.7L349.2 469.5 M326.1 466.7L328.2 467 M333.4 469.7L336.8 469.4 M406.8 470.8L408.5 471.3 M388.7 484.7L390.2 484.1 M346.4 484.8L348.4 485.4 M352.3 482.5L355.2 481.7 M424.9 470L428 470.1 M335.5 479.7L336.8 480.2 M429.2 479.6L432.3 479.2 M403.2 485.3L406.3 486.1 M366.2 486.5L369.8 486.8 M362.6 485.6L365.3 484.8 M363.2 486.2L366.1 486.2 M401.3 467.9L403.9 468.7 M341.4 481.1L345.1 481.8 M341.3 482.4L344.4 483.7 M363.2 485.5L365.2 485 M418.4 469.3L421.2 470.1 M335.9 467L338 466.7 M418.9 471L421.2 470.1 M384.2 484.3L387.1 483.1 M346.5 481.4L348.1 481.6 M429.2 483.8L431.2 483.6 M339.4 481.6L341.7 482.1 M389.5 486.3L391.8 486.7 M333.6 482L336.3 483.1 M427.1 482.9L430.1 482 M412.6 485.2L415.7 484.3 M409.2 482.6L412.7 483.3 M324.9 465.5L327.6 466.3 M318.7 467.2L320.3 467.7 M332.9 466.6L336 467.5" stroke="#f86a14" stroke-width="1.5" stroke-linecap="round" fill="none"/>
<path d="M338 465.2C338.7 464.9 343.3 465 346 465.1C348.7 465.2 353.5 465.5 354 465.7C354.5 466 351 466.6 349 466.7C347 466.8 343.8 466.9 342 466.6C340.2 466.4 337.3 465.4 338 465.2Z" fill="#f86a14"/>
<path d="M403 467.1C403.8 466.8 407.7 466.6 410 466.5C412.3 466.5 416.7 466.7 417 467.1C417.3 467.4 414 468.3 412 468.5C410 468.8 406.5 468.8 405 468.6C403.5 468.3 402.2 467.5 403 467.1Z" fill="#f86a14"/>
<path d="M337 480.4C337.5 480 339.7 480.7 341 481.3C342.3 481.9 344.7 483.3 345 484C345.3 484.6 344.2 485 343 485C341.8 485 339 484.7 338 484C337 483.2 336.5 480.8 337 480.4Z" fill="#f86a14"/>
<path d="M366 484.7C366.7 484.4 369.3 484.4 371 484.4C372.7 484.5 375.7 484.9 376 485.2C376.3 485.5 374.5 486.2 373 486.4C371.5 486.5 368.2 486.5 367 486.2C365.8 486 365.3 485 366 484.7Z" fill="#f86a14"/>
<path d="M406 484.6C406.7 484.2 409.5 484 411 484.1C412.5 484.1 414.8 484.6 415 485C415.2 485.3 413.3 486.1 412 486.3C410.7 486.6 408 486.6 407 486.3C406 486 405.3 485 406 484.6Z" fill="#f86a14"/>
<path d="M317 466.4C317.7 466.2 321.7 466.6 324 466.9C326.3 467.1 330.5 467.8 331 468.1C331.5 468.4 328.8 468.6 327 468.5C325.2 468.5 321.7 468.2 320 467.8C318.3 467.4 316.3 466.6 317 466.4Z" fill="#f86a14"/>
<path d="M423 475.3C423.2 474.9 426.5 474 428 474C429.5 473.9 432.2 474.7 432 475.1C431.8 475.5 428.5 476.4 427 476.4C425.5 476.5 422.8 475.7 423 475.3Z" fill="#f86a14"/>
<path d="M301 464.6C301.2 464.5 303.8 464.7 305 465C306.2 465.2 308.2 465.8 308 466C307.8 466.1 305.2 466.1 304 465.9C302.8 465.7 300.8 464.8 301 464.6Z" fill="#f86a14"/></g></g>
</svg>
</body></html>
